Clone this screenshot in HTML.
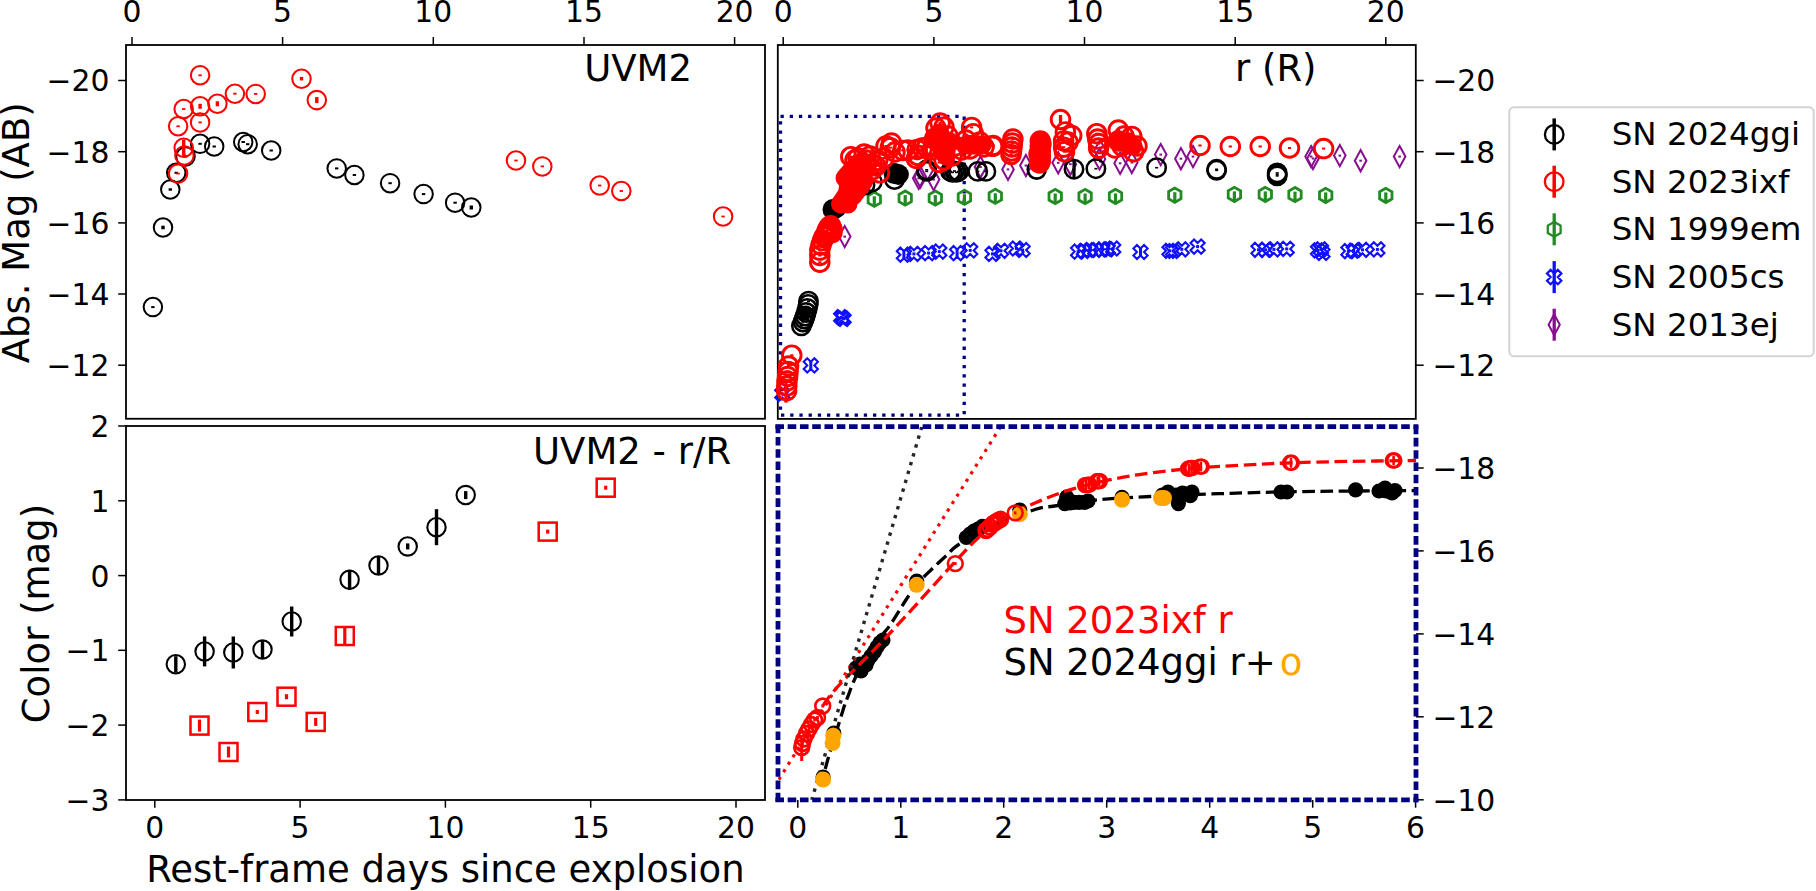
<!DOCTYPE html>
<html><head><meta charset="utf-8"><title>Light curves</title>
<style>html,body{margin:0;padding:0;background:#fff;overflow:hidden;width:1816px;height:891px;} svg{display:block;}</style>
</head><body>
<svg width="1816" height="891" viewBox="0 0 1816 891" font-family="'DejaVu Sans', 'Liberation Sans', sans-serif">
<rect width="1816" height="891" fill="#fff"/>
<rect x="126.0" y="45.0" width="639.00" height="373.75" fill="none" stroke="#000" stroke-width="1.8"/>
<line x1="132.0" y1="37.0" x2="132.0" y2="45.0" stroke="#000" stroke-width="1.5" />
<text x="132.0" y="22.3" font-size="29.8" fill="#000" text-anchor="middle" >0</text>
<line x1="282.6" y1="37.0" x2="282.6" y2="45.0" stroke="#000" stroke-width="1.5" />
<text x="282.6" y="22.3" font-size="29.8" fill="#000" text-anchor="middle" >5</text>
<line x1="433.3" y1="37.0" x2="433.3" y2="45.0" stroke="#000" stroke-width="1.5" />
<text x="433.3" y="22.3" font-size="29.8" fill="#000" text-anchor="middle" >10</text>
<line x1="584.0" y1="37.0" x2="584.0" y2="45.0" stroke="#000" stroke-width="1.5" />
<text x="584.0" y="22.3" font-size="29.8" fill="#000" text-anchor="middle" >15</text>
<line x1="734.6" y1="37.0" x2="734.6" y2="45.0" stroke="#000" stroke-width="1.5" />
<text x="734.6" y="22.3" font-size="29.8" fill="#000" text-anchor="middle" >20</text>
<line x1="118.2" y1="80.5" x2="126.0" y2="80.5" stroke="#000" stroke-width="1.5" />
<text x="109.5" y="91.4" font-size="29.8" fill="#000" text-anchor="end" >−20</text>
<line x1="118.2" y1="151.7" x2="126.0" y2="151.7" stroke="#000" stroke-width="1.5" />
<text x="109.5" y="162.6" font-size="29.8" fill="#000" text-anchor="end" >−18</text>
<line x1="118.2" y1="222.9" x2="126.0" y2="222.9" stroke="#000" stroke-width="1.5" />
<text x="109.5" y="233.8" font-size="29.8" fill="#000" text-anchor="end" >−16</text>
<line x1="118.2" y1="294.0" x2="126.0" y2="294.0" stroke="#000" stroke-width="1.5" />
<text x="109.5" y="304.9" font-size="29.8" fill="#000" text-anchor="end" >−14</text>
<line x1="118.2" y1="365.2" x2="126.0" y2="365.2" stroke="#000" stroke-width="1.5" />
<text x="109.5" y="376.1" font-size="29.8" fill="#000" text-anchor="end" >−12</text>
<line x1="163.0" y1="225.7" x2="163.0" y2="229.3" stroke="#000000" stroke-width="3.4"/>
<circle cx="163.0" cy="227.5" r="9.25" fill="none" stroke="#000000" stroke-width="2.0"/>
<line x1="170.3" y1="188.3" x2="170.3" y2="190.7" stroke="#000000" stroke-width="3.4"/>
<circle cx="170.3" cy="189.5" r="9.25" fill="none" stroke="#000000" stroke-width="2.0"/>
<line x1="185.5" y1="155.6" x2="185.5" y2="157.6" stroke="#000000" stroke-width="3.4"/>
<circle cx="185.5" cy="156.6" r="9.25" fill="none" stroke="#000000" stroke-width="2.0"/>
<line x1="200.1" y1="142.8" x2="200.1" y2="144.8" stroke="#000000" stroke-width="3.4"/>
<circle cx="200.1" cy="143.8" r="9.25" fill="none" stroke="#000000" stroke-width="2.0"/>
<line x1="214.2" y1="145.5" x2="214.2" y2="147.5" stroke="#000000" stroke-width="3.4"/>
<circle cx="214.2" cy="146.5" r="9.25" fill="none" stroke="#000000" stroke-width="2.0"/>
<line x1="243.2" y1="141.0" x2="243.2" y2="143.0" stroke="#000000" stroke-width="3.4"/>
<circle cx="243.2" cy="142.0" r="9.25" fill="none" stroke="#000000" stroke-width="2.0"/>
<line x1="247.7" y1="143.2" x2="247.7" y2="145.2" stroke="#000000" stroke-width="3.4"/>
<circle cx="247.7" cy="144.2" r="9.25" fill="none" stroke="#000000" stroke-width="2.0"/>
<line x1="271.2" y1="149.5" x2="271.2" y2="151.5" stroke="#000000" stroke-width="3.4"/>
<circle cx="271.2" cy="150.5" r="9.25" fill="none" stroke="#000000" stroke-width="2.0"/>
<line x1="152.9" y1="306.1" x2="152.9" y2="308.1" stroke="#000000" stroke-width="3.4"/>
<circle cx="152.9" cy="307.1" r="9.25" fill="none" stroke="#000000" stroke-width="2.0"/>
<line x1="176.2" y1="171.8" x2="176.2" y2="173.8" stroke="#000000" stroke-width="3.4"/>
<circle cx="176.2" cy="172.8" r="9.25" fill="none" stroke="#000000" stroke-width="2.0"/>
<line x1="336.7" y1="167.4" x2="336.7" y2="169.4" stroke="#000000" stroke-width="3.4"/>
<circle cx="336.7" cy="168.4" r="9.25" fill="none" stroke="#000000" stroke-width="2.0"/>
<line x1="354.4" y1="174.0" x2="354.4" y2="176.0" stroke="#000000" stroke-width="3.4"/>
<circle cx="354.4" cy="175.0" r="9.25" fill="none" stroke="#000000" stroke-width="2.0"/>
<line x1="390.1" y1="182.2" x2="390.1" y2="184.2" stroke="#000000" stroke-width="3.4"/>
<circle cx="390.1" cy="183.2" r="9.25" fill="none" stroke="#000000" stroke-width="2.0"/>
<line x1="423.6" y1="193.1" x2="423.6" y2="195.1" stroke="#000000" stroke-width="3.4"/>
<circle cx="423.6" cy="194.1" r="9.25" fill="none" stroke="#000000" stroke-width="2.0"/>
<line x1="455.1" y1="201.7" x2="455.1" y2="203.7" stroke="#000000" stroke-width="3.4"/>
<circle cx="455.1" cy="202.7" r="9.25" fill="none" stroke="#000000" stroke-width="2.0"/>
<line x1="471.3" y1="205.5" x2="471.3" y2="209.5" stroke="#000000" stroke-width="3.4"/>
<circle cx="471.3" cy="207.5" r="9.25" fill="none" stroke="#000000" stroke-width="2.0"/>
<line x1="200.1" y1="74.4" x2="200.1" y2="76.2" stroke="#ff0000" stroke-width="3.4"/>
<circle cx="200.1" cy="75.3" r="9.25" fill="none" stroke="#ff0000" stroke-width="2.05"/>
<line x1="301.5" y1="76.9" x2="301.5" y2="80.5" stroke="#ff0000" stroke-width="3.4"/>
<circle cx="301.5" cy="78.7" r="9.25" fill="none" stroke="#ff0000" stroke-width="2.05"/>
<line x1="316.8" y1="97.1" x2="316.8" y2="103.1" stroke="#ff0000" stroke-width="3.4"/>
<circle cx="316.8" cy="100.1" r="9.25" fill="none" stroke="#ff0000" stroke-width="2.05"/>
<line x1="234.9" y1="92.8" x2="234.9" y2="94.6" stroke="#ff0000" stroke-width="3.4"/>
<circle cx="234.9" cy="93.7" r="9.25" fill="none" stroke="#ff0000" stroke-width="2.05"/>
<line x1="255.7" y1="93.0" x2="255.7" y2="94.8" stroke="#ff0000" stroke-width="3.4"/>
<circle cx="255.7" cy="93.9" r="9.25" fill="none" stroke="#ff0000" stroke-width="2.05"/>
<line x1="217.4" y1="101.3" x2="217.4" y2="106.3" stroke="#ff0000" stroke-width="3.4"/>
<circle cx="217.4" cy="103.8" r="9.25" fill="none" stroke="#ff0000" stroke-width="2.05"/>
<line x1="200.1" y1="103.8" x2="200.1" y2="108.8" stroke="#ff0000" stroke-width="3.4"/>
<circle cx="200.1" cy="106.3" r="9.25" fill="none" stroke="#ff0000" stroke-width="2.05"/>
<line x1="183.7" y1="108.1" x2="183.7" y2="109.9" stroke="#ff0000" stroke-width="3.4"/>
<circle cx="183.7" cy="109.0" r="9.25" fill="none" stroke="#ff0000" stroke-width="2.05"/>
<line x1="200.1" y1="121.5" x2="200.1" y2="123.3" stroke="#ff0000" stroke-width="3.4"/>
<circle cx="200.1" cy="122.4" r="9.25" fill="none" stroke="#ff0000" stroke-width="2.05"/>
<line x1="178.1" y1="125.4" x2="178.1" y2="127.2" stroke="#ff0000" stroke-width="3.4"/>
<circle cx="178.1" cy="126.3" r="9.25" fill="none" stroke="#ff0000" stroke-width="2.05"/>
<line x1="183.7" y1="139.8" x2="183.7" y2="155.8" stroke="#ff0000" stroke-width="3.4"/>
<circle cx="183.7" cy="147.8" r="9.25" fill="none" stroke="#ff0000" stroke-width="2.05"/>
<line x1="184.4" y1="154.5" x2="184.4" y2="156.3" stroke="#ff0000" stroke-width="3.4"/>
<circle cx="184.4" cy="155.4" r="9.25" fill="none" stroke="#ff0000" stroke-width="2.05"/>
<line x1="178.1" y1="172.7" x2="178.1" y2="174.5" stroke="#ff0000" stroke-width="3.4"/>
<circle cx="178.1" cy="173.6" r="9.25" fill="none" stroke="#ff0000" stroke-width="2.05"/>
<line x1="516.0" y1="159.6" x2="516.0" y2="161.4" stroke="#ff0000" stroke-width="3.4"/>
<circle cx="516.0" cy="160.5" r="9.25" fill="none" stroke="#ff0000" stroke-width="2.05"/>
<line x1="542.3" y1="165.5" x2="542.3" y2="167.3" stroke="#ff0000" stroke-width="3.4"/>
<circle cx="542.3" cy="166.4" r="9.25" fill="none" stroke="#ff0000" stroke-width="2.05"/>
<line x1="599.7" y1="184.6" x2="599.7" y2="186.4" stroke="#ff0000" stroke-width="3.4"/>
<circle cx="599.7" cy="185.5" r="9.25" fill="none" stroke="#ff0000" stroke-width="2.05"/>
<line x1="621.3" y1="190.1" x2="621.3" y2="191.9" stroke="#ff0000" stroke-width="3.4"/>
<circle cx="621.3" cy="191.0" r="9.25" fill="none" stroke="#ff0000" stroke-width="2.05"/>
<line x1="723.1" y1="215.6" x2="723.1" y2="217.4" stroke="#ff0000" stroke-width="3.4"/>
<circle cx="723.1" cy="216.5" r="9.25" fill="none" stroke="#ff0000" stroke-width="2.05"/>
<text x="584.2" y="81.1" font-size="37.0" fill="#000" text-anchor="start" >UVM2</text>
<rect x="777.8" y="45.0" width="638.00" height="373.90" fill="none" stroke="#000" stroke-width="1.8"/>
<line x1="783.2" y1="37.0" x2="783.2" y2="45.0" stroke="#000" stroke-width="1.5" />
<text x="783.2" y="22.3" font-size="29.8" fill="#000" text-anchor="middle" >0</text>
<line x1="933.9" y1="37.0" x2="933.9" y2="45.0" stroke="#000" stroke-width="1.5" />
<text x="933.9" y="22.3" font-size="29.8" fill="#000" text-anchor="middle" >5</text>
<line x1="1084.5" y1="37.0" x2="1084.5" y2="45.0" stroke="#000" stroke-width="1.5" />
<text x="1084.5" y="22.3" font-size="29.8" fill="#000" text-anchor="middle" >10</text>
<line x1="1235.2" y1="37.0" x2="1235.2" y2="45.0" stroke="#000" stroke-width="1.5" />
<text x="1235.2" y="22.3" font-size="29.8" fill="#000" text-anchor="middle" >15</text>
<line x1="1385.8" y1="37.0" x2="1385.8" y2="45.0" stroke="#000" stroke-width="1.5" />
<text x="1385.8" y="22.3" font-size="29.8" fill="#000" text-anchor="middle" >20</text>
<line x1="1415.8" y1="80.5" x2="1423.7" y2="80.5" stroke="#000" stroke-width="1.5" />
<text x="1432.4" y="91.4" font-size="29.8" fill="#000" text-anchor="start" >−20</text>
<line x1="1415.8" y1="151.7" x2="1423.7" y2="151.7" stroke="#000" stroke-width="1.5" />
<text x="1432.4" y="162.6" font-size="29.8" fill="#000" text-anchor="start" >−18</text>
<line x1="1415.8" y1="222.9" x2="1423.7" y2="222.9" stroke="#000" stroke-width="1.5" />
<text x="1432.4" y="233.8" font-size="29.8" fill="#000" text-anchor="start" >−16</text>
<line x1="1415.8" y1="294.0" x2="1423.7" y2="294.0" stroke="#000" stroke-width="1.5" />
<text x="1432.4" y="304.9" font-size="29.8" fill="#000" text-anchor="start" >−14</text>
<line x1="1415.8" y1="365.2" x2="1423.7" y2="365.2" stroke="#000" stroke-width="1.5" />
<text x="1432.4" y="376.1" font-size="29.8" fill="#000" text-anchor="start" >−12</text>
<rect x="780.5" y="116.3" width="183.7" height="298.8" fill="none" stroke="#000080" stroke-width="3.3" stroke-dasharray="3.3 5.9"/>
<line x1="874.3" y1="196.3" x2="874.3" y2="206.3" stroke="#228b22" stroke-width="3.2"/>
<polygon points="874.30,192.15 868.11,195.73 868.11,202.88 874.30,206.45 880.49,202.88 880.49,195.73" fill="none" stroke="#228b22" stroke-width="2.8" stroke-linejoin="miter"/>
<line x1="905.2" y1="195.1" x2="905.2" y2="205.1" stroke="#228b22" stroke-width="3.2"/>
<polygon points="905.20,190.95 899.01,194.53 899.01,201.67 905.20,205.25 911.39,201.68 911.39,194.53" fill="none" stroke="#228b22" stroke-width="2.8" stroke-linejoin="miter"/>
<line x1="935.3" y1="195.1" x2="935.3" y2="205.1" stroke="#228b22" stroke-width="3.2"/>
<polygon points="935.30,190.95 929.11,194.53 929.11,201.67 935.30,205.25 941.49,201.68 941.49,194.53" fill="none" stroke="#228b22" stroke-width="2.8" stroke-linejoin="miter"/>
<line x1="964.4" y1="194.3" x2="964.4" y2="204.3" stroke="#228b22" stroke-width="3.2"/>
<polygon points="964.40,190.15 958.21,193.73 958.21,200.88 964.40,204.45 970.59,200.88 970.59,193.73" fill="none" stroke="#228b22" stroke-width="2.8" stroke-linejoin="miter"/>
<line x1="995.3" y1="193.3" x2="995.3" y2="203.3" stroke="#228b22" stroke-width="3.2"/>
<polygon points="995.30,189.15 989.11,192.73 989.11,199.88 995.30,203.45 1001.49,199.88 1001.49,192.73" fill="none" stroke="#228b22" stroke-width="2.8" stroke-linejoin="miter"/>
<line x1="1055.2" y1="193.5" x2="1055.2" y2="203.5" stroke="#228b22" stroke-width="3.2"/>
<polygon points="1055.20,189.35 1049.01,192.93 1049.01,200.07 1055.20,203.65 1061.39,200.08 1061.39,192.93" fill="none" stroke="#228b22" stroke-width="2.8" stroke-linejoin="miter"/>
<line x1="1085.1" y1="193.5" x2="1085.1" y2="203.5" stroke="#228b22" stroke-width="3.2"/>
<polygon points="1085.10,189.35 1078.91,192.93 1078.91,200.07 1085.10,203.65 1091.29,200.08 1091.29,192.93" fill="none" stroke="#228b22" stroke-width="2.8" stroke-linejoin="miter"/>
<line x1="1115.5" y1="193.4" x2="1115.5" y2="203.4" stroke="#228b22" stroke-width="3.2"/>
<polygon points="1115.50,189.25 1109.31,192.83 1109.31,199.97 1115.50,203.55 1121.69,199.98 1121.69,192.83" fill="none" stroke="#228b22" stroke-width="2.8" stroke-linejoin="miter"/>
<line x1="1174.8" y1="192.2" x2="1174.8" y2="202.2" stroke="#228b22" stroke-width="3.2"/>
<polygon points="1174.80,188.05 1168.61,191.62 1168.61,198.77 1174.80,202.35 1180.99,198.78 1180.99,191.62" fill="none" stroke="#228b22" stroke-width="2.8" stroke-linejoin="miter"/>
<line x1="1234.4" y1="191.4" x2="1234.4" y2="201.4" stroke="#228b22" stroke-width="3.2"/>
<polygon points="1234.40,187.25 1228.21,190.83 1228.21,197.97 1234.40,201.55 1240.59,197.98 1240.59,190.83" fill="none" stroke="#228b22" stroke-width="2.8" stroke-linejoin="miter"/>
<line x1="1265.3" y1="191.4" x2="1265.3" y2="201.4" stroke="#228b22" stroke-width="3.2"/>
<polygon points="1265.30,187.25 1259.11,190.83 1259.11,197.97 1265.30,201.55 1271.49,197.98 1271.49,190.83" fill="none" stroke="#228b22" stroke-width="2.8" stroke-linejoin="miter"/>
<line x1="1295.0" y1="191.6" x2="1295.0" y2="201.6" stroke="#228b22" stroke-width="3.2"/>
<polygon points="1295.00,187.45 1288.81,191.03 1288.81,198.17 1295.00,201.75 1301.19,198.18 1301.19,191.03" fill="none" stroke="#228b22" stroke-width="2.8" stroke-linejoin="miter"/>
<line x1="1325.7" y1="192.4" x2="1325.7" y2="202.4" stroke="#228b22" stroke-width="3.2"/>
<polygon points="1325.70,188.25 1319.51,191.83 1319.51,198.97 1325.70,202.55 1331.89,198.98 1331.89,191.83" fill="none" stroke="#228b22" stroke-width="2.8" stroke-linejoin="miter"/>
<line x1="1385.8" y1="192.4" x2="1385.8" y2="202.4" stroke="#228b22" stroke-width="3.2"/>
<polygon points="1385.80,188.25 1379.61,191.83 1379.61,198.97 1385.80,202.55 1391.99,198.98 1391.99,191.83" fill="none" stroke="#228b22" stroke-width="2.8" stroke-linejoin="miter"/>
<line x1="841.2" y1="315.7" x2="841.2" y2="318.7" stroke="#1010ff" stroke-width="3.0"/>
<polygon points="837.65,310.10 841.20,313.65 844.75,310.10 848.30,313.65 844.75,317.20 848.30,320.75 844.75,324.30 841.20,320.75 837.65,324.30 834.10,320.75 837.65,317.20 834.10,313.65" fill="none" stroke="#1010ff" stroke-width="2.1" stroke-linejoin="miter"/>
<line x1="843.6" y1="317.3" x2="843.6" y2="320.3" stroke="#1010ff" stroke-width="3.0"/>
<polygon points="840.05,311.70 843.60,315.25 847.15,311.70 850.70,315.25 847.15,318.80 850.70,322.35 847.15,325.90 843.60,322.35 840.05,325.90 836.50,322.35 840.05,318.80 836.50,315.25" fill="none" stroke="#1010ff" stroke-width="2.1" stroke-linejoin="miter"/>
<line x1="842.4" y1="316.5" x2="842.4" y2="319.5" stroke="#1010ff" stroke-width="3.0"/>
<polygon points="838.85,310.90 842.40,314.45 845.95,310.90 849.50,314.45 845.95,318.00 849.50,321.55 845.95,325.10 842.40,321.55 838.85,325.10 835.30,321.55 838.85,318.00 835.30,314.45" fill="none" stroke="#1010ff" stroke-width="2.1" stroke-linejoin="miter"/>
<line x1="810.8" y1="360.4" x2="810.8" y2="370.4" stroke="#1010ff" stroke-width="3.0"/>
<polygon points="807.25,358.30 810.80,361.85 814.35,358.30 817.90,361.85 814.35,365.40 817.90,368.95 814.35,372.50 810.80,368.95 807.25,372.50 803.70,368.95 807.25,365.40 803.70,361.85" fill="none" stroke="#1010ff" stroke-width="2.1" stroke-linejoin="miter"/>
<line x1="782.3" y1="392.4" x2="782.3" y2="395.4" stroke="#1010ff" stroke-width="3.0"/>
<polygon points="778.75,386.80 782.30,390.35 785.85,386.80 789.40,390.35 785.85,393.90 789.40,397.45 785.85,401.00 782.30,397.45 778.75,401.00 775.20,397.45 778.75,393.90 775.20,390.35" fill="none" stroke="#1010ff" stroke-width="2.1" stroke-linejoin="miter"/>
<line x1="903.9" y1="249.7" x2="903.9" y2="259.7" stroke="#1010ff" stroke-width="3.0"/>
<polygon points="900.35,247.60 903.90,251.15 907.45,247.60 911.00,251.15 907.45,254.70 911.00,258.25 907.45,261.80 903.90,258.25 900.35,261.80 896.80,258.25 900.35,254.70 896.80,251.15" fill="none" stroke="#1010ff" stroke-width="2.1" stroke-linejoin="miter"/>
<line x1="913.9" y1="252.4" x2="913.9" y2="255.4" stroke="#1010ff" stroke-width="3.0"/>
<polygon points="910.35,246.80 913.90,250.35 917.45,246.80 921.00,250.35 917.45,253.90 921.00,257.45 917.45,261.00 913.90,257.45 910.35,261.00 906.80,257.45 910.35,253.90 906.80,250.35" fill="none" stroke="#1010ff" stroke-width="2.1" stroke-linejoin="miter"/>
<line x1="928.6" y1="251.6" x2="928.6" y2="254.6" stroke="#1010ff" stroke-width="3.0"/>
<polygon points="925.05,246.00 928.60,249.55 932.15,246.00 935.70,249.55 932.15,253.10 935.70,256.65 932.15,260.20 928.60,256.65 925.05,260.20 921.50,256.65 925.05,253.10 921.50,249.55" fill="none" stroke="#1010ff" stroke-width="2.1" stroke-linejoin="miter"/>
<line x1="939.3" y1="250.1" x2="939.3" y2="253.1" stroke="#1010ff" stroke-width="3.0"/>
<polygon points="935.75,244.50 939.30,248.05 942.85,244.50 946.40,248.05 942.85,251.60 946.40,255.15 942.85,258.70 939.30,255.15 935.75,258.70 932.20,255.15 935.75,251.60 932.20,248.05" fill="none" stroke="#1010ff" stroke-width="2.1" stroke-linejoin="miter"/>
<line x1="957.1" y1="248.1" x2="957.1" y2="258.1" stroke="#1010ff" stroke-width="3.0"/>
<polygon points="953.55,246.00 957.10,249.55 960.65,246.00 964.20,249.55 960.65,253.10 964.20,256.65 960.65,260.20 957.10,256.65 953.55,260.20 950.00,256.65 953.55,253.10 950.00,249.55" fill="none" stroke="#1010ff" stroke-width="2.1" stroke-linejoin="miter"/>
<line x1="970.2" y1="248.9" x2="970.2" y2="251.9" stroke="#1010ff" stroke-width="3.0"/>
<polygon points="966.65,243.30 970.20,246.85 973.75,243.30 977.30,246.85 973.75,250.40 977.30,253.95 973.75,257.50 970.20,253.95 966.65,257.50 963.10,253.95 966.65,250.40 963.10,246.85" fill="none" stroke="#1010ff" stroke-width="2.1" stroke-linejoin="miter"/>
<line x1="992.5" y1="252.4" x2="992.5" y2="255.4" stroke="#1010ff" stroke-width="3.0"/>
<polygon points="988.95,246.80 992.50,250.35 996.05,246.80 999.60,250.35 996.05,253.90 999.60,257.45 996.05,261.00 992.50,257.45 988.95,261.00 985.40,257.45 988.95,253.90 985.40,250.35" fill="none" stroke="#1010ff" stroke-width="2.1" stroke-linejoin="miter"/>
<line x1="1001.0" y1="249.3" x2="1001.0" y2="252.3" stroke="#1010ff" stroke-width="3.0"/>
<polygon points="997.45,243.70 1001.00,247.25 1004.55,243.70 1008.10,247.25 1004.55,250.80 1008.10,254.35 1004.55,257.90 1001.00,254.35 997.45,257.90 993.90,254.35 997.45,250.80 993.90,247.25" fill="none" stroke="#1010ff" stroke-width="2.1" stroke-linejoin="miter"/>
<line x1="1016.4" y1="247.0" x2="1016.4" y2="250.0" stroke="#1010ff" stroke-width="3.0"/>
<polygon points="1012.85,241.40 1016.40,244.95 1019.95,241.40 1023.50,244.95 1019.95,248.50 1023.50,252.05 1019.95,255.60 1016.40,252.05 1012.85,255.60 1009.30,252.05 1012.85,248.50 1009.30,244.95" fill="none" stroke="#1010ff" stroke-width="2.1" stroke-linejoin="miter"/>
<line x1="1022.6" y1="248.5" x2="1022.6" y2="251.5" stroke="#1010ff" stroke-width="3.0"/>
<polygon points="1019.05,242.90 1022.60,246.45 1026.15,242.90 1029.70,246.45 1026.15,250.00 1029.70,253.55 1026.15,257.10 1022.60,253.55 1019.05,257.10 1015.50,253.55 1019.05,250.00 1015.50,246.45" fill="none" stroke="#1010ff" stroke-width="2.1" stroke-linejoin="miter"/>
<line x1="1078.1" y1="250.1" x2="1078.1" y2="253.1" stroke="#1010ff" stroke-width="3.0"/>
<polygon points="1074.55,244.50 1078.10,248.05 1081.65,244.50 1085.20,248.05 1081.65,251.60 1085.20,255.15 1081.65,258.70 1078.10,255.15 1074.55,258.70 1071.00,255.15 1074.55,251.60 1071.00,248.05" fill="none" stroke="#1010ff" stroke-width="2.1" stroke-linejoin="miter"/>
<line x1="1083.9" y1="249.3" x2="1083.9" y2="252.3" stroke="#1010ff" stroke-width="3.0"/>
<polygon points="1080.35,243.70 1083.90,247.25 1087.45,243.70 1091.00,247.25 1087.45,250.80 1091.00,254.35 1087.45,257.90 1083.90,254.35 1080.35,257.90 1076.80,254.35 1080.35,250.80 1076.80,247.25" fill="none" stroke="#1010ff" stroke-width="2.1" stroke-linejoin="miter"/>
<line x1="1090.0" y1="248.5" x2="1090.0" y2="251.5" stroke="#1010ff" stroke-width="3.0"/>
<polygon points="1086.45,242.90 1090.00,246.45 1093.55,242.90 1097.10,246.45 1093.55,250.00 1097.10,253.55 1093.55,257.10 1090.00,253.55 1086.45,257.10 1082.90,253.55 1086.45,250.00 1082.90,246.45" fill="none" stroke="#1010ff" stroke-width="2.1" stroke-linejoin="miter"/>
<line x1="1095.4" y1="248.5" x2="1095.4" y2="251.5" stroke="#1010ff" stroke-width="3.0"/>
<polygon points="1091.85,242.90 1095.40,246.45 1098.95,242.90 1102.50,246.45 1098.95,250.00 1102.50,253.55 1098.95,257.10 1095.40,253.55 1091.85,257.10 1088.30,253.55 1091.85,250.00 1088.30,246.45" fill="none" stroke="#1010ff" stroke-width="2.1" stroke-linejoin="miter"/>
<line x1="1102.4" y1="247.8" x2="1102.4" y2="250.8" stroke="#1010ff" stroke-width="3.0"/>
<polygon points="1098.85,242.20 1102.40,245.75 1105.95,242.20 1109.50,245.75 1105.95,249.30 1109.50,252.85 1105.95,256.40 1102.40,252.85 1098.85,256.40 1095.30,252.85 1098.85,249.30 1095.30,245.75" fill="none" stroke="#1010ff" stroke-width="2.1" stroke-linejoin="miter"/>
<line x1="1107.8" y1="247.8" x2="1107.8" y2="250.8" stroke="#1010ff" stroke-width="3.0"/>
<polygon points="1104.25,242.20 1107.80,245.75 1111.35,242.20 1114.90,245.75 1111.35,249.30 1114.90,252.85 1111.35,256.40 1107.80,252.85 1104.25,256.40 1100.70,252.85 1104.25,249.30 1100.70,245.75" fill="none" stroke="#1010ff" stroke-width="2.1" stroke-linejoin="miter"/>
<line x1="1113.2" y1="247.0" x2="1113.2" y2="250.0" stroke="#1010ff" stroke-width="3.0"/>
<polygon points="1109.65,241.40 1113.20,244.95 1116.75,241.40 1120.30,244.95 1116.75,248.50 1120.30,252.05 1116.75,255.60 1113.20,252.05 1109.65,255.60 1106.10,252.05 1109.65,248.50 1106.10,244.95" fill="none" stroke="#1010ff" stroke-width="2.1" stroke-linejoin="miter"/>
<line x1="1140.5" y1="247.0" x2="1140.5" y2="257.0" stroke="#1010ff" stroke-width="3.0"/>
<polygon points="1136.95,244.90 1140.50,248.45 1144.05,244.90 1147.60,248.45 1144.05,252.00 1147.60,255.55 1144.05,259.10 1140.50,255.55 1136.95,259.10 1133.40,255.55 1136.95,252.00 1133.40,248.45" fill="none" stroke="#1010ff" stroke-width="2.1" stroke-linejoin="miter"/>
<line x1="1169.5" y1="249.3" x2="1169.5" y2="252.3" stroke="#1010ff" stroke-width="3.0"/>
<polygon points="1165.95,243.70 1169.50,247.25 1173.05,243.70 1176.60,247.25 1173.05,250.80 1176.60,254.35 1173.05,257.90 1169.50,254.35 1165.95,257.90 1162.40,254.35 1165.95,250.80 1162.40,247.25" fill="none" stroke="#1010ff" stroke-width="2.1" stroke-linejoin="miter"/>
<line x1="1173.0" y1="249.5" x2="1173.0" y2="252.5" stroke="#1010ff" stroke-width="3.0"/>
<polygon points="1169.45,243.90 1173.00,247.45 1176.55,243.90 1180.10,247.45 1176.55,251.00 1180.10,254.55 1176.55,258.10 1173.00,254.55 1169.45,258.10 1165.90,254.55 1169.45,251.00 1165.90,247.45" fill="none" stroke="#1010ff" stroke-width="2.1" stroke-linejoin="miter"/>
<line x1="1181.8" y1="247.8" x2="1181.8" y2="250.8" stroke="#1010ff" stroke-width="3.0"/>
<polygon points="1178.25,242.20 1181.80,245.75 1185.35,242.20 1188.90,245.75 1185.35,249.30 1188.90,252.85 1185.35,256.40 1181.80,252.85 1178.25,256.40 1174.70,252.85 1178.25,249.30 1174.70,245.75" fill="none" stroke="#1010ff" stroke-width="2.1" stroke-linejoin="miter"/>
<line x1="1197.6" y1="245.1" x2="1197.6" y2="248.1" stroke="#1010ff" stroke-width="3.0"/>
<polygon points="1194.05,239.50 1197.60,243.05 1201.15,239.50 1204.70,243.05 1201.15,246.60 1204.70,250.15 1201.15,253.70 1197.60,250.15 1194.05,253.70 1190.50,250.15 1194.05,246.60 1190.50,243.05" fill="none" stroke="#1010ff" stroke-width="2.1" stroke-linejoin="miter"/>
<line x1="1258.5" y1="248.3" x2="1258.5" y2="251.3" stroke="#1010ff" stroke-width="3.0"/>
<polygon points="1254.95,242.70 1258.50,246.25 1262.05,242.70 1265.60,246.25 1262.05,249.80 1265.60,253.35 1262.05,256.90 1258.50,253.35 1254.95,256.90 1251.40,253.35 1254.95,249.80 1251.40,246.25" fill="none" stroke="#1010ff" stroke-width="2.1" stroke-linejoin="miter"/>
<line x1="1265.6" y1="248.3" x2="1265.6" y2="251.3" stroke="#1010ff" stroke-width="3.0"/>
<polygon points="1262.05,242.70 1265.60,246.25 1269.15,242.70 1272.70,246.25 1269.15,249.80 1272.70,253.35 1269.15,256.90 1265.60,253.35 1262.05,256.90 1258.50,253.35 1262.05,249.80 1258.50,246.25" fill="none" stroke="#1010ff" stroke-width="2.1" stroke-linejoin="miter"/>
<line x1="1273.9" y1="247.9" x2="1273.9" y2="250.9" stroke="#1010ff" stroke-width="3.0"/>
<polygon points="1270.35,242.30 1273.90,245.85 1277.45,242.30 1281.00,245.85 1277.45,249.40 1281.00,252.95 1277.45,256.50 1273.90,252.95 1270.35,256.50 1266.80,252.95 1270.35,249.40 1266.80,245.85" fill="none" stroke="#1010ff" stroke-width="2.1" stroke-linejoin="miter"/>
<line x1="1286.7" y1="247.4" x2="1286.7" y2="250.4" stroke="#1010ff" stroke-width="3.0"/>
<polygon points="1283.15,241.80 1286.70,245.35 1290.25,241.80 1293.80,245.35 1290.25,248.90 1293.80,252.45 1290.25,256.00 1286.70,252.45 1283.15,256.00 1279.60,252.45 1283.15,248.90 1279.60,245.35" fill="none" stroke="#1010ff" stroke-width="2.1" stroke-linejoin="miter"/>
<line x1="1318.0" y1="248.8" x2="1318.0" y2="251.8" stroke="#1010ff" stroke-width="3.0"/>
<polygon points="1314.45,243.20 1318.00,246.75 1321.55,243.20 1325.10,246.75 1321.55,250.30 1325.10,253.85 1321.55,257.40 1318.00,253.85 1314.45,257.40 1310.90,253.85 1314.45,250.30 1310.90,246.75" fill="none" stroke="#1010ff" stroke-width="2.1" stroke-linejoin="miter"/>
<line x1="1322.5" y1="251.5" x2="1322.5" y2="254.5" stroke="#1010ff" stroke-width="3.0"/>
<polygon points="1318.95,245.90 1322.50,249.45 1326.05,245.90 1329.60,249.45 1326.05,253.00 1329.60,256.55 1326.05,260.10 1322.50,256.55 1318.95,260.10 1315.40,256.55 1318.95,253.00 1315.40,249.45" fill="none" stroke="#1010ff" stroke-width="2.1" stroke-linejoin="miter"/>
<line x1="1321.0" y1="247.9" x2="1321.0" y2="250.9" stroke="#1010ff" stroke-width="3.0"/>
<polygon points="1317.45,242.30 1321.00,245.85 1324.55,242.30 1328.10,245.85 1324.55,249.40 1328.10,252.95 1324.55,256.50 1321.00,252.95 1317.45,256.50 1313.90,252.95 1317.45,249.40 1313.90,245.85" fill="none" stroke="#1010ff" stroke-width="2.1" stroke-linejoin="miter"/>
<line x1="1348.4" y1="249.6" x2="1348.4" y2="252.6" stroke="#1010ff" stroke-width="3.0"/>
<polygon points="1344.85,244.00 1348.40,247.55 1351.95,244.00 1355.50,247.55 1351.95,251.10 1355.50,254.65 1351.95,258.20 1348.40,254.65 1344.85,258.20 1341.30,254.65 1344.85,251.10 1341.30,247.55" fill="none" stroke="#1010ff" stroke-width="2.1" stroke-linejoin="miter"/>
<line x1="1353.7" y1="249.2" x2="1353.7" y2="252.2" stroke="#1010ff" stroke-width="3.0"/>
<polygon points="1350.15,243.60 1353.70,247.15 1357.25,243.60 1360.80,247.15 1357.25,250.70 1360.80,254.25 1357.25,257.80 1353.70,254.25 1350.15,257.80 1346.60,254.25 1350.15,250.70 1346.60,247.15" fill="none" stroke="#1010ff" stroke-width="2.1" stroke-linejoin="miter"/>
<line x1="1362.5" y1="248.3" x2="1362.5" y2="251.3" stroke="#1010ff" stroke-width="3.0"/>
<polygon points="1358.95,242.70 1362.50,246.25 1366.05,242.70 1369.60,246.25 1366.05,249.80 1369.60,253.35 1366.05,256.90 1362.50,253.35 1358.95,256.90 1355.40,253.35 1358.95,249.80 1355.40,246.25" fill="none" stroke="#1010ff" stroke-width="2.1" stroke-linejoin="miter"/>
<line x1="1377.4" y1="247.9" x2="1377.4" y2="250.9" stroke="#1010ff" stroke-width="3.0"/>
<polygon points="1373.85,242.30 1377.40,245.85 1380.95,242.30 1384.50,245.85 1380.95,249.40 1384.50,252.95 1380.95,256.50 1377.40,252.95 1373.85,256.50 1370.30,252.95 1373.85,249.40 1370.30,245.85" fill="none" stroke="#1010ff" stroke-width="2.1" stroke-linejoin="miter"/>
<line x1="844.7" y1="235.6" x2="844.7" y2="237.6" stroke="#870f8f" stroke-width="2.6"/>
<polygon points="844.70,226.00 850.50,236.60 844.70,247.20 838.90,236.60" fill="none" stroke="#870f8f" stroke-width="2.0" stroke-linejoin="miter"/>
<line x1="918.7" y1="177.3" x2="918.7" y2="179.3" stroke="#870f8f" stroke-width="2.6"/>
<polygon points="918.70,167.70 924.50,178.30 918.70,188.90 912.90,178.30" fill="none" stroke="#870f8f" stroke-width="2.0" stroke-linejoin="miter"/>
<line x1="920.4" y1="176.0" x2="920.4" y2="178.0" stroke="#870f8f" stroke-width="2.6"/>
<polygon points="920.40,166.40 926.20,177.00 920.40,187.60 914.60,177.00" fill="none" stroke="#870f8f" stroke-width="2.0" stroke-linejoin="miter"/>
<line x1="933.6" y1="178.6" x2="933.6" y2="180.6" stroke="#870f8f" stroke-width="2.6"/>
<polygon points="933.60,169.00 939.40,179.60 933.60,190.20 927.80,179.60" fill="none" stroke="#870f8f" stroke-width="2.0" stroke-linejoin="miter"/>
<line x1="980.5" y1="166.0" x2="980.5" y2="168.0" stroke="#870f8f" stroke-width="2.6"/>
<polygon points="980.50,156.40 986.30,167.00 980.50,177.60 974.70,167.00" fill="none" stroke="#870f8f" stroke-width="2.0" stroke-linejoin="miter"/>
<line x1="1008.0" y1="168.4" x2="1008.0" y2="170.4" stroke="#870f8f" stroke-width="2.6"/>
<polygon points="1008.00,158.80 1013.80,169.40 1008.00,180.00 1002.20,169.40" fill="none" stroke="#870f8f" stroke-width="2.0" stroke-linejoin="miter"/>
<line x1="1025.9" y1="164.5" x2="1025.9" y2="166.5" stroke="#870f8f" stroke-width="2.6"/>
<polygon points="1025.90,154.90 1031.70,165.50 1025.90,176.10 1020.10,165.50" fill="none" stroke="#870f8f" stroke-width="2.0" stroke-linejoin="miter"/>
<line x1="1058.2" y1="161.8" x2="1058.2" y2="163.8" stroke="#870f8f" stroke-width="2.6"/>
<polygon points="1058.20,152.20 1064.00,162.80 1058.20,173.40 1052.40,162.80" fill="none" stroke="#870f8f" stroke-width="2.0" stroke-linejoin="miter"/>
<line x1="1070.4" y1="163.2" x2="1070.4" y2="165.2" stroke="#870f8f" stroke-width="2.6"/>
<polygon points="1070.40,153.60 1076.20,164.20 1070.40,174.80 1064.60,164.20" fill="none" stroke="#870f8f" stroke-width="2.0" stroke-linejoin="miter"/>
<line x1="1099.5" y1="157.9" x2="1099.5" y2="159.9" stroke="#870f8f" stroke-width="2.6"/>
<polygon points="1099.50,148.30 1105.30,158.90 1099.50,169.50 1093.70,158.90" fill="none" stroke="#870f8f" stroke-width="2.0" stroke-linejoin="miter"/>
<line x1="1100.0" y1="149.6" x2="1100.0" y2="151.6" stroke="#870f8f" stroke-width="2.6"/>
<polygon points="1100.00,140.00 1105.80,150.60 1100.00,161.20 1094.20,150.60" fill="none" stroke="#870f8f" stroke-width="2.0" stroke-linejoin="miter"/>
<line x1="1120.1" y1="162.3" x2="1120.1" y2="164.3" stroke="#870f8f" stroke-width="2.6"/>
<polygon points="1120.10,152.70 1125.90,163.30 1120.10,173.90 1114.30,163.30" fill="none" stroke="#870f8f" stroke-width="2.0" stroke-linejoin="miter"/>
<line x1="1131.8" y1="161.5" x2="1131.8" y2="163.5" stroke="#870f8f" stroke-width="2.6"/>
<polygon points="1131.80,151.90 1137.60,162.50 1131.80,173.10 1126.00,162.50" fill="none" stroke="#870f8f" stroke-width="2.0" stroke-linejoin="miter"/>
<line x1="1160.7" y1="153.6" x2="1160.7" y2="155.6" stroke="#870f8f" stroke-width="2.6"/>
<polygon points="1160.70,144.00 1166.50,154.60 1160.70,165.20 1154.90,154.60" fill="none" stroke="#870f8f" stroke-width="2.0" stroke-linejoin="miter"/>
<line x1="1180.9" y1="157.7" x2="1180.9" y2="159.7" stroke="#870f8f" stroke-width="2.6"/>
<polygon points="1180.90,148.10 1186.70,158.70 1180.90,169.30 1175.10,158.70" fill="none" stroke="#870f8f" stroke-width="2.0" stroke-linejoin="miter"/>
<line x1="1193.0" y1="155.6" x2="1193.0" y2="157.6" stroke="#870f8f" stroke-width="2.6"/>
<polygon points="1193.00,146.00 1198.80,156.60 1193.00,167.20 1187.20,156.60" fill="none" stroke="#870f8f" stroke-width="2.0" stroke-linejoin="miter"/>
<line x1="1311.1" y1="155.6" x2="1311.1" y2="157.6" stroke="#870f8f" stroke-width="2.6"/>
<polygon points="1311.10,146.00 1316.90,156.60 1311.10,167.20 1305.30,156.60" fill="none" stroke="#870f8f" stroke-width="2.0" stroke-linejoin="miter"/>
<line x1="1313.0" y1="157.5" x2="1313.0" y2="159.5" stroke="#870f8f" stroke-width="2.6"/>
<polygon points="1313.00,147.90 1318.80,158.50 1313.00,169.10 1307.20,158.50" fill="none" stroke="#870f8f" stroke-width="2.0" stroke-linejoin="miter"/>
<line x1="1339.8" y1="154.6" x2="1339.8" y2="156.6" stroke="#870f8f" stroke-width="2.6"/>
<polygon points="1339.80,145.00 1345.60,155.60 1339.80,166.20 1334.00,155.60" fill="none" stroke="#870f8f" stroke-width="2.0" stroke-linejoin="miter"/>
<line x1="1360.6" y1="159.7" x2="1360.6" y2="161.7" stroke="#870f8f" stroke-width="2.6"/>
<polygon points="1360.60,150.10 1366.40,160.70 1360.60,171.30 1354.80,160.70" fill="none" stroke="#870f8f" stroke-width="2.0" stroke-linejoin="miter"/>
<line x1="1399.6" y1="155.6" x2="1399.6" y2="157.6" stroke="#870f8f" stroke-width="2.6"/>
<polygon points="1399.60,146.00 1405.40,156.60 1399.60,167.20 1393.80,156.60" fill="none" stroke="#870f8f" stroke-width="2.0" stroke-linejoin="miter"/>
<line x1="808.5" y1="300.4" x2="808.5" y2="302.0" stroke="#000000" stroke-width="3.0"/>
<circle cx="808.5" cy="301.2" r="9.2" fill="none" stroke="#000000" stroke-width="2.5"/>
<line x1="808.2" y1="303.7" x2="808.2" y2="305.3" stroke="#000000" stroke-width="3.0"/>
<circle cx="808.2" cy="304.5" r="9.2" fill="none" stroke="#000000" stroke-width="2.5"/>
<line x1="807.3" y1="307.7" x2="807.3" y2="309.3" stroke="#000000" stroke-width="3.0"/>
<circle cx="807.3" cy="308.5" r="9.2" fill="none" stroke="#000000" stroke-width="2.5"/>
<line x1="806.2" y1="311.7" x2="806.2" y2="313.3" stroke="#000000" stroke-width="3.0"/>
<circle cx="806.2" cy="312.5" r="9.2" fill="none" stroke="#000000" stroke-width="2.5"/>
<line x1="805.2" y1="315.2" x2="805.2" y2="316.8" stroke="#000000" stroke-width="3.0"/>
<circle cx="805.2" cy="316.0" r="9.2" fill="none" stroke="#000000" stroke-width="2.5"/>
<line x1="804.2" y1="318.2" x2="804.2" y2="319.8" stroke="#000000" stroke-width="3.0"/>
<circle cx="804.2" cy="319.0" r="9.2" fill="none" stroke="#000000" stroke-width="2.5"/>
<line x1="803.0" y1="321.2" x2="803.0" y2="322.8" stroke="#000000" stroke-width="3.0"/>
<circle cx="803.0" cy="322.0" r="9.2" fill="none" stroke="#000000" stroke-width="2.5"/>
<line x1="801.4" y1="325.0" x2="801.4" y2="326.6" stroke="#000000" stroke-width="3.0"/>
<circle cx="801.4" cy="325.8" r="9.2" fill="none" stroke="#000000" stroke-width="2.5"/>
<line x1="858.0" y1="186.2" x2="858.0" y2="187.8" stroke="#000000" stroke-width="3.0"/>
<circle cx="858.0" cy="187.0" r="9.2" fill="none" stroke="#000000" stroke-width="2.5"/>
<line x1="865.0" y1="184.2" x2="865.0" y2="185.8" stroke="#000000" stroke-width="3.0"/>
<circle cx="865.0" cy="185.0" r="9.2" fill="none" stroke="#000000" stroke-width="2.5"/>
<line x1="872.3" y1="181.0" x2="872.3" y2="182.6" stroke="#000000" stroke-width="3.0"/>
<circle cx="872.3" cy="181.8" r="9.2" fill="none" stroke="#000000" stroke-width="2.5"/>
<line x1="894.5" y1="178.7" x2="894.5" y2="180.3" stroke="#000000" stroke-width="3.0"/>
<circle cx="894.5" cy="179.5" r="9.2" fill="none" stroke="#000000" stroke-width="2.5"/>
<line x1="926.7" y1="170.6" x2="926.7" y2="172.2" stroke="#000000" stroke-width="3.0"/>
<circle cx="926.7" cy="171.4" r="9.2" fill="none" stroke="#000000" stroke-width="2.5"/>
<line x1="926.7" y1="169.0" x2="926.7" y2="170.6" stroke="#000000" stroke-width="3.0"/>
<circle cx="926.7" cy="169.8" r="9.2" fill="none" stroke="#000000" stroke-width="2.5"/>
<line x1="950.5" y1="170.6" x2="950.5" y2="172.2" stroke="#000000" stroke-width="3.0"/>
<circle cx="950.5" cy="171.4" r="9.2" fill="none" stroke="#000000" stroke-width="2.5"/>
<line x1="952.5" y1="171.6" x2="952.5" y2="173.2" stroke="#000000" stroke-width="3.0"/>
<circle cx="952.5" cy="172.4" r="9.2" fill="none" stroke="#000000" stroke-width="2.5"/>
<line x1="954.5" y1="170.2" x2="954.5" y2="171.8" stroke="#000000" stroke-width="3.0"/>
<circle cx="954.5" cy="171.0" r="9.2" fill="none" stroke="#000000" stroke-width="2.5"/>
<line x1="956.5" y1="171.6" x2="956.5" y2="173.2" stroke="#000000" stroke-width="3.0"/>
<circle cx="956.5" cy="172.4" r="9.2" fill="none" stroke="#000000" stroke-width="2.5"/>
<line x1="958.5" y1="170.6" x2="958.5" y2="172.2" stroke="#000000" stroke-width="3.0"/>
<circle cx="958.5" cy="171.4" r="9.2" fill="none" stroke="#000000" stroke-width="2.5"/>
<line x1="977.8" y1="170.6" x2="977.8" y2="172.2" stroke="#000000" stroke-width="3.0"/>
<circle cx="977.8" cy="171.4" r="9.2" fill="none" stroke="#000000" stroke-width="2.5"/>
<line x1="985.9" y1="170.6" x2="985.9" y2="172.2" stroke="#000000" stroke-width="3.0"/>
<circle cx="985.9" cy="171.4" r="9.2" fill="none" stroke="#000000" stroke-width="2.5"/>
<line x1="1074.0" y1="168.4" x2="1074.0" y2="170.0" stroke="#000000" stroke-width="3.0"/>
<circle cx="1074.0" cy="169.2" r="9.2" fill="none" stroke="#000000" stroke-width="2.5"/>
<line x1="1095.9" y1="167.9" x2="1095.9" y2="169.5" stroke="#000000" stroke-width="3.0"/>
<circle cx="1095.9" cy="168.7" r="9.2" fill="none" stroke="#000000" stroke-width="2.5"/>
<line x1="1156.6" y1="166.9" x2="1156.6" y2="168.5" stroke="#000000" stroke-width="3.0"/>
<circle cx="1156.6" cy="167.7" r="9.2" fill="none" stroke="#000000" stroke-width="2.5"/>
<line x1="1216.6" y1="168.5" x2="1216.6" y2="170.1" stroke="#000000" stroke-width="3.0"/>
<circle cx="1216.6" cy="169.3" r="9.2" fill="none" stroke="#000000" stroke-width="2.5"/>
<line x1="1216.6" y1="169.5" x2="1216.6" y2="171.1" stroke="#000000" stroke-width="3.0"/>
<circle cx="1216.6" cy="170.3" r="9.2" fill="none" stroke="#000000" stroke-width="2.5"/>
<line x1="1277.2" y1="172.1" x2="1277.2" y2="173.7" stroke="#000000" stroke-width="3.0"/>
<circle cx="1277.2" cy="172.9" r="9.2" fill="none" stroke="#000000" stroke-width="2.5"/>
<line x1="1277.2" y1="173.6" x2="1277.2" y2="175.2" stroke="#000000" stroke-width="3.0"/>
<circle cx="1277.2" cy="174.4" r="9.2" fill="none" stroke="#000000" stroke-width="2.5"/>
<line x1="1277.2" y1="175.1" x2="1277.2" y2="176.7" stroke="#000000" stroke-width="3.0"/>
<circle cx="1277.2" cy="175.9" r="9.2" fill="none" stroke="#000000" stroke-width="2.5"/>
<line x1="806.8" y1="307.0" x2="803.4" y2="320.0" stroke="#000000" stroke-width="9.5" />
<circle cx="833.0" cy="209.5" r="10.5" fill="#000000"/>
<circle cx="836.5" cy="208.0" r="10" fill="#000000"/>
<circle cx="894.3" cy="173.5" r="10.6" fill="#000000"/>
<circle cx="898.5" cy="174.5" r="10.4" fill="#000000"/>
<circle cx="1036.7" cy="169.6" r="9.0" fill="none" stroke="#000000" stroke-width="2.6"/>
<line x1="1074.0" y1="160.7" x2="1074.0" y2="178.6" stroke="#000000" stroke-width="3.2"/>
<path d="M848,204 L848,190 L850,176" fill="none" stroke="#ff0000" stroke-width="19" stroke-linecap="round" stroke-linejoin="round"/>
<path d="M853,196 L864,181" fill="none" stroke="#ff0000" stroke-width="19" stroke-linecap="round" stroke-linejoin="round"/>
<path d="M840.5,204 L846,196" fill="none" stroke="#ff0000" stroke-width="19" stroke-linecap="round" stroke-linejoin="round"/>
<path d="M845,178 L852,170 L860,168" fill="none" stroke="#ff0000" stroke-width="19" stroke-linecap="round" stroke-linejoin="round"/>
<path d="M940,133 L942,150 L946,156" fill="none" stroke="#ff0000" stroke-width="19" stroke-linecap="round" stroke-linejoin="round"/>
<path d="M933,140 L950,142" fill="none" stroke="#ff0000" stroke-width="19" stroke-linecap="round" stroke-linejoin="round"/>
<path d="M966,145 L982,145" fill="none" stroke="#ff0000" stroke-width="19" stroke-linecap="round" stroke-linejoin="round"/>
<path d="M1040.3,142 L1040.3,161" fill="none" stroke="#ff0000" stroke-width="19" stroke-linecap="round" stroke-linejoin="round"/>
<path d="M1118,140 L1133,146" fill="none" stroke="#ff0000" stroke-width="19" stroke-linecap="round" stroke-linejoin="round"/>
<line x1="791.8" y1="354.2" x2="791.8" y2="356.2" stroke="#ff0000" stroke-width="3.2"/>
<circle cx="791.8" cy="355.2" r="9.3" fill="none" stroke="#ff0000" stroke-width="2.9"/>
<line x1="788.6" y1="365.0" x2="788.6" y2="367.0" stroke="#ff0000" stroke-width="3.2"/>
<circle cx="788.6" cy="366.0" r="9.3" fill="none" stroke="#ff0000" stroke-width="2.9"/>
<line x1="788.1" y1="370.4" x2="788.1" y2="372.4" stroke="#ff0000" stroke-width="3.2"/>
<circle cx="788.1" cy="371.4" r="9.3" fill="none" stroke="#ff0000" stroke-width="2.9"/>
<line x1="787.6" y1="375.5" x2="787.6" y2="377.5" stroke="#ff0000" stroke-width="3.2"/>
<circle cx="787.6" cy="376.5" r="9.3" fill="none" stroke="#ff0000" stroke-width="2.9"/>
<line x1="787.0" y1="380.0" x2="787.0" y2="382.0" stroke="#ff0000" stroke-width="3.2"/>
<circle cx="787.0" cy="381.0" r="9.3" fill="none" stroke="#ff0000" stroke-width="2.9"/>
<line x1="786.8" y1="385.0" x2="786.8" y2="387.0" stroke="#ff0000" stroke-width="3.2"/>
<circle cx="786.8" cy="386.0" r="9.3" fill="none" stroke="#ff0000" stroke-width="2.9"/>
<line x1="786.6" y1="389.6" x2="786.6" y2="391.6" stroke="#ff0000" stroke-width="3.2"/>
<circle cx="786.6" cy="390.6" r="9.3" fill="none" stroke="#ff0000" stroke-width="2.9"/>
<line x1="819.8" y1="261.2" x2="819.8" y2="263.2" stroke="#ff0000" stroke-width="3.2"/>
<circle cx="819.8" cy="262.2" r="9.3" fill="none" stroke="#ff0000" stroke-width="2.9"/>
<line x1="819.8" y1="254.5" x2="819.8" y2="256.5" stroke="#ff0000" stroke-width="3.2"/>
<circle cx="819.8" cy="255.5" r="9.3" fill="none" stroke="#ff0000" stroke-width="2.9"/>
<line x1="819.8" y1="249.1" x2="819.8" y2="251.1" stroke="#ff0000" stroke-width="3.2"/>
<circle cx="819.8" cy="250.1" r="9.3" fill="none" stroke="#ff0000" stroke-width="2.9"/>
<line x1="822.5" y1="239.6" x2="822.5" y2="241.6" stroke="#ff0000" stroke-width="3.2"/>
<circle cx="822.5" cy="240.6" r="9.3" fill="none" stroke="#ff0000" stroke-width="2.9"/>
<line x1="826.5" y1="232.9" x2="826.5" y2="234.9" stroke="#ff0000" stroke-width="3.2"/>
<circle cx="826.5" cy="233.9" r="9.3" fill="none" stroke="#ff0000" stroke-width="2.9"/>
<line x1="830.6" y1="224.8" x2="830.6" y2="226.8" stroke="#ff0000" stroke-width="3.2"/>
<circle cx="830.6" cy="225.8" r="9.3" fill="none" stroke="#ff0000" stroke-width="2.9"/>
<line x1="831.9" y1="231.6" x2="831.9" y2="233.6" stroke="#ff0000" stroke-width="3.2"/>
<circle cx="831.9" cy="232.6" r="9.3" fill="none" stroke="#ff0000" stroke-width="2.9"/>
<line x1="821.0" y1="244.0" x2="821.0" y2="246.0" stroke="#ff0000" stroke-width="3.2"/>
<circle cx="821.0" cy="245.0" r="9.3" fill="none" stroke="#ff0000" stroke-width="2.9"/>
<line x1="824.0" y1="236.0" x2="824.0" y2="238.0" stroke="#ff0000" stroke-width="3.2"/>
<circle cx="824.0" cy="237.0" r="9.3" fill="none" stroke="#ff0000" stroke-width="2.9"/>
<line x1="828.0" y1="228.0" x2="828.0" y2="230.0" stroke="#ff0000" stroke-width="3.2"/>
<circle cx="828.0" cy="229.0" r="9.3" fill="none" stroke="#ff0000" stroke-width="2.9"/>
<line x1="829.0" y1="226.0" x2="829.0" y2="228.0" stroke="#ff0000" stroke-width="3.2"/>
<circle cx="829.0" cy="227.0" r="9.3" fill="none" stroke="#ff0000" stroke-width="2.9"/>
<line x1="832.0" y1="228.0" x2="832.0" y2="230.0" stroke="#ff0000" stroke-width="3.2"/>
<circle cx="832.0" cy="229.0" r="9.3" fill="none" stroke="#ff0000" stroke-width="2.9"/>
<line x1="827.0" y1="230.0" x2="827.0" y2="232.0" stroke="#ff0000" stroke-width="3.2"/>
<circle cx="827.0" cy="231.0" r="9.3" fill="none" stroke="#ff0000" stroke-width="2.9"/>
<line x1="830.0" y1="232.0" x2="830.0" y2="234.0" stroke="#ff0000" stroke-width="3.2"/>
<circle cx="830.0" cy="233.0" r="9.3" fill="none" stroke="#ff0000" stroke-width="2.9"/>
<line x1="825.0" y1="235.0" x2="825.0" y2="237.0" stroke="#ff0000" stroke-width="3.2"/>
<circle cx="825.0" cy="236.0" r="9.3" fill="none" stroke="#ff0000" stroke-width="2.9"/>
<line x1="850.8" y1="155.7" x2="850.8" y2="157.7" stroke="#ff0000" stroke-width="3.2"/>
<circle cx="850.8" cy="156.7" r="9.3" fill="none" stroke="#ff0000" stroke-width="2.9"/>
<line x1="858.0" y1="157.0" x2="858.0" y2="159.0" stroke="#ff0000" stroke-width="3.2"/>
<circle cx="858.0" cy="158.0" r="9.3" fill="none" stroke="#ff0000" stroke-width="2.9"/>
<line x1="864.2" y1="153.0" x2="864.2" y2="155.0" stroke="#ff0000" stroke-width="3.2"/>
<circle cx="864.2" cy="154.0" r="9.3" fill="none" stroke="#ff0000" stroke-width="2.9"/>
<line x1="870.0" y1="155.0" x2="870.0" y2="157.0" stroke="#ff0000" stroke-width="3.2"/>
<circle cx="870.0" cy="156.0" r="9.3" fill="none" stroke="#ff0000" stroke-width="2.9"/>
<line x1="877.7" y1="159.3" x2="877.7" y2="161.3" stroke="#ff0000" stroke-width="3.2"/>
<circle cx="877.7" cy="160.3" r="9.3" fill="none" stroke="#ff0000" stroke-width="2.9"/>
<line x1="879.5" y1="171.8" x2="879.5" y2="173.8" stroke="#ff0000" stroke-width="3.2"/>
<circle cx="879.5" cy="172.8" r="9.3" fill="none" stroke="#ff0000" stroke-width="2.9"/>
<line x1="872.0" y1="169.0" x2="872.0" y2="171.0" stroke="#ff0000" stroke-width="3.2"/>
<circle cx="872.0" cy="170.0" r="9.3" fill="none" stroke="#ff0000" stroke-width="2.9"/>
<line x1="866.0" y1="165.0" x2="866.0" y2="167.0" stroke="#ff0000" stroke-width="3.2"/>
<circle cx="866.0" cy="166.0" r="9.3" fill="none" stroke="#ff0000" stroke-width="2.9"/>
<line x1="891.5" y1="142.0" x2="891.5" y2="144.0" stroke="#ff0000" stroke-width="3.2"/>
<circle cx="891.5" cy="143.0" r="9.3" fill="none" stroke="#ff0000" stroke-width="2.9"/>
<line x1="890.3" y1="146.7" x2="890.3" y2="148.7" stroke="#ff0000" stroke-width="3.2"/>
<circle cx="890.3" cy="147.7" r="9.3" fill="none" stroke="#ff0000" stroke-width="2.9"/>
<line x1="886.0" y1="145.0" x2="886.0" y2="147.0" stroke="#ff0000" stroke-width="3.2"/>
<circle cx="886.0" cy="146.0" r="9.3" fill="none" stroke="#ff0000" stroke-width="2.9"/>
<line x1="866.0" y1="159.0" x2="866.0" y2="161.0" stroke="#ff0000" stroke-width="3.2"/>
<circle cx="866.0" cy="160.0" r="9.3" fill="none" stroke="#ff0000" stroke-width="2.9"/>
<line x1="872.0" y1="163.0" x2="872.0" y2="165.0" stroke="#ff0000" stroke-width="3.2"/>
<circle cx="872.0" cy="164.0" r="9.3" fill="none" stroke="#ff0000" stroke-width="2.9"/>
<line x1="862.0" y1="162.0" x2="862.0" y2="164.0" stroke="#ff0000" stroke-width="3.2"/>
<circle cx="862.0" cy="163.0" r="9.3" fill="none" stroke="#ff0000" stroke-width="2.9"/>
<line x1="876.0" y1="165.0" x2="876.0" y2="167.0" stroke="#ff0000" stroke-width="3.2"/>
<circle cx="876.0" cy="166.0" r="9.3" fill="none" stroke="#ff0000" stroke-width="2.9"/>
<line x1="858.0" y1="164.0" x2="858.0" y2="166.0" stroke="#ff0000" stroke-width="3.2"/>
<circle cx="858.0" cy="165.0" r="9.3" fill="none" stroke="#ff0000" stroke-width="2.9"/>
<line x1="855.0" y1="159.0" x2="855.0" y2="161.0" stroke="#ff0000" stroke-width="3.2"/>
<circle cx="855.0" cy="160.0" r="9.3" fill="none" stroke="#ff0000" stroke-width="2.9"/>
<line x1="895.0" y1="151.0" x2="895.0" y2="153.0" stroke="#ff0000" stroke-width="3.2"/>
<circle cx="895.0" cy="152.0" r="9.3" fill="none" stroke="#ff0000" stroke-width="2.9"/>
<line x1="902.8" y1="149.4" x2="902.8" y2="151.4" stroke="#ff0000" stroke-width="3.2"/>
<circle cx="902.8" cy="150.4" r="9.3" fill="none" stroke="#ff0000" stroke-width="2.9"/>
<line x1="908.0" y1="149.0" x2="908.0" y2="151.0" stroke="#ff0000" stroke-width="3.2"/>
<circle cx="908.0" cy="150.0" r="9.3" fill="none" stroke="#ff0000" stroke-width="2.9"/>
<line x1="917.2" y1="148.5" x2="917.2" y2="150.5" stroke="#ff0000" stroke-width="3.2"/>
<circle cx="917.2" cy="149.5" r="9.3" fill="none" stroke="#ff0000" stroke-width="2.9"/>
<line x1="916.3" y1="157.5" x2="916.3" y2="159.5" stroke="#ff0000" stroke-width="3.2"/>
<circle cx="916.3" cy="158.5" r="9.3" fill="none" stroke="#ff0000" stroke-width="2.9"/>
<line x1="922.2" y1="147.1" x2="922.2" y2="149.1" stroke="#ff0000" stroke-width="3.2"/>
<circle cx="922.2" cy="148.1" r="9.3" fill="none" stroke="#ff0000" stroke-width="2.9"/>
<line x1="917.7" y1="154.3" x2="917.7" y2="156.3" stroke="#ff0000" stroke-width="3.2"/>
<circle cx="917.7" cy="155.3" r="9.3" fill="none" stroke="#ff0000" stroke-width="2.9"/>
<line x1="926.7" y1="146.2" x2="926.7" y2="148.2" stroke="#ff0000" stroke-width="3.2"/>
<circle cx="926.7" cy="147.2" r="9.3" fill="none" stroke="#ff0000" stroke-width="2.9"/>
<line x1="884.0" y1="157.0" x2="884.0" y2="159.0" stroke="#ff0000" stroke-width="3.2"/>
<circle cx="884.0" cy="158.0" r="9.3" fill="none" stroke="#ff0000" stroke-width="2.9"/>
<line x1="940.1" y1="122.0" x2="940.1" y2="124.0" stroke="#ff0000" stroke-width="3.2"/>
<circle cx="940.1" cy="123.0" r="9.3" fill="none" stroke="#ff0000" stroke-width="2.9"/>
<line x1="936.0" y1="127.0" x2="936.0" y2="129.0" stroke="#ff0000" stroke-width="3.2"/>
<circle cx="936.0" cy="128.0" r="9.3" fill="none" stroke="#ff0000" stroke-width="2.9"/>
<line x1="944.0" y1="126.0" x2="944.0" y2="128.0" stroke="#ff0000" stroke-width="3.2"/>
<circle cx="944.0" cy="127.0" r="9.3" fill="none" stroke="#ff0000" stroke-width="2.9"/>
<line x1="935.0" y1="137.0" x2="935.0" y2="139.0" stroke="#ff0000" stroke-width="3.2"/>
<circle cx="935.0" cy="138.0" r="9.3" fill="none" stroke="#ff0000" stroke-width="2.9"/>
<line x1="948.0" y1="135.0" x2="948.0" y2="137.0" stroke="#ff0000" stroke-width="3.2"/>
<circle cx="948.0" cy="136.0" r="9.3" fill="none" stroke="#ff0000" stroke-width="2.9"/>
<line x1="932.0" y1="149.0" x2="932.0" y2="151.0" stroke="#ff0000" stroke-width="3.2"/>
<circle cx="932.0" cy="150.0" r="9.3" fill="none" stroke="#ff0000" stroke-width="2.9"/>
<line x1="945.0" y1="149.0" x2="945.0" y2="151.0" stroke="#ff0000" stroke-width="3.2"/>
<circle cx="945.0" cy="150.0" r="9.3" fill="none" stroke="#ff0000" stroke-width="2.9"/>
<line x1="939.2" y1="161.5" x2="939.2" y2="163.5" stroke="#ff0000" stroke-width="3.2"/>
<circle cx="939.2" cy="162.5" r="9.3" fill="none" stroke="#ff0000" stroke-width="2.9"/>
<line x1="944.0" y1="159.0" x2="944.0" y2="161.0" stroke="#ff0000" stroke-width="3.2"/>
<circle cx="944.0" cy="160.0" r="9.3" fill="none" stroke="#ff0000" stroke-width="2.9"/>
<line x1="952.0" y1="155.0" x2="952.0" y2="157.0" stroke="#ff0000" stroke-width="3.2"/>
<circle cx="952.0" cy="156.0" r="9.3" fill="none" stroke="#ff0000" stroke-width="2.9"/>
<line x1="955.0" y1="145.0" x2="955.0" y2="147.0" stroke="#ff0000" stroke-width="3.2"/>
<circle cx="955.0" cy="146.0" r="9.3" fill="none" stroke="#ff0000" stroke-width="2.9"/>
<line x1="971.6" y1="126.4" x2="971.6" y2="128.4" stroke="#ff0000" stroke-width="3.2"/>
<circle cx="971.6" cy="127.4" r="9.3" fill="none" stroke="#ff0000" stroke-width="2.9"/>
<line x1="973.3" y1="132.7" x2="973.3" y2="134.7" stroke="#ff0000" stroke-width="3.2"/>
<circle cx="973.3" cy="133.7" r="9.3" fill="none" stroke="#ff0000" stroke-width="2.9"/>
<line x1="966.0" y1="139.0" x2="966.0" y2="141.0" stroke="#ff0000" stroke-width="3.2"/>
<circle cx="966.0" cy="140.0" r="9.3" fill="none" stroke="#ff0000" stroke-width="2.9"/>
<line x1="980.0" y1="141.0" x2="980.0" y2="143.0" stroke="#ff0000" stroke-width="3.2"/>
<circle cx="980.0" cy="142.0" r="9.3" fill="none" stroke="#ff0000" stroke-width="2.9"/>
<line x1="984.0" y1="146.0" x2="984.0" y2="148.0" stroke="#ff0000" stroke-width="3.2"/>
<circle cx="984.0" cy="147.0" r="9.3" fill="none" stroke="#ff0000" stroke-width="2.9"/>
<line x1="970.0" y1="148.0" x2="970.0" y2="150.0" stroke="#ff0000" stroke-width="3.2"/>
<circle cx="970.0" cy="149.0" r="9.3" fill="none" stroke="#ff0000" stroke-width="2.9"/>
<line x1="993.1" y1="144.4" x2="993.1" y2="146.4" stroke="#ff0000" stroke-width="3.2"/>
<circle cx="993.1" cy="145.4" r="9.3" fill="none" stroke="#ff0000" stroke-width="2.9"/>
<line x1="962.0" y1="149.0" x2="962.0" y2="151.0" stroke="#ff0000" stroke-width="3.2"/>
<circle cx="962.0" cy="150.0" r="9.3" fill="none" stroke="#ff0000" stroke-width="2.9"/>
<line x1="992.7" y1="145.3" x2="992.7" y2="147.3" stroke="#ff0000" stroke-width="3.2"/>
<circle cx="992.7" cy="146.3" r="9.3" fill="none" stroke="#ff0000" stroke-width="2.9"/>
<line x1="1012.9" y1="138.0" x2="1012.9" y2="140.0" stroke="#ff0000" stroke-width="3.2"/>
<circle cx="1012.9" cy="139.0" r="9.3" fill="none" stroke="#ff0000" stroke-width="2.9"/>
<line x1="1012.4" y1="142.0" x2="1012.4" y2="144.0" stroke="#ff0000" stroke-width="3.2"/>
<circle cx="1012.4" cy="143.0" r="9.3" fill="none" stroke="#ff0000" stroke-width="2.9"/>
<line x1="1012.0" y1="146.0" x2="1012.0" y2="148.0" stroke="#ff0000" stroke-width="3.2"/>
<circle cx="1012.0" cy="147.0" r="9.3" fill="none" stroke="#ff0000" stroke-width="2.9"/>
<line x1="1011.5" y1="150.0" x2="1011.5" y2="152.0" stroke="#ff0000" stroke-width="3.2"/>
<circle cx="1011.5" cy="151.0" r="9.3" fill="none" stroke="#ff0000" stroke-width="2.9"/>
<line x1="1011.0" y1="153.5" x2="1011.0" y2="155.5" stroke="#ff0000" stroke-width="3.2"/>
<circle cx="1011.0" cy="154.5" r="9.3" fill="none" stroke="#ff0000" stroke-width="2.9"/>
<line x1="1040.3" y1="140.0" x2="1040.3" y2="142.0" stroke="#ff0000" stroke-width="3.2"/>
<circle cx="1040.3" cy="141.0" r="9.3" fill="none" stroke="#ff0000" stroke-width="2.9"/>
<line x1="1040.3" y1="145.0" x2="1040.3" y2="147.0" stroke="#ff0000" stroke-width="3.2"/>
<circle cx="1040.3" cy="146.0" r="9.3" fill="none" stroke="#ff0000" stroke-width="2.9"/>
<line x1="1040.3" y1="150.0" x2="1040.3" y2="152.0" stroke="#ff0000" stroke-width="3.2"/>
<circle cx="1040.3" cy="151.0" r="9.3" fill="none" stroke="#ff0000" stroke-width="2.9"/>
<line x1="1040.3" y1="155.0" x2="1040.3" y2="157.0" stroke="#ff0000" stroke-width="3.2"/>
<circle cx="1040.3" cy="156.0" r="9.3" fill="none" stroke="#ff0000" stroke-width="2.9"/>
<line x1="1040.3" y1="160.0" x2="1040.3" y2="162.0" stroke="#ff0000" stroke-width="3.2"/>
<circle cx="1040.3" cy="161.0" r="9.3" fill="none" stroke="#ff0000" stroke-width="2.9"/>
<line x1="1039.5" y1="162.0" x2="1039.5" y2="164.0" stroke="#ff0000" stroke-width="3.2"/>
<circle cx="1039.5" cy="163.0" r="9.3" fill="none" stroke="#ff0000" stroke-width="2.9"/>
<line x1="1041.0" y1="143.0" x2="1041.0" y2="145.0" stroke="#ff0000" stroke-width="3.2"/>
<circle cx="1041.0" cy="144.0" r="9.3" fill="none" stroke="#ff0000" stroke-width="2.9"/>
<line x1="1039.0" y1="153.0" x2="1039.0" y2="155.0" stroke="#ff0000" stroke-width="3.2"/>
<circle cx="1039.0" cy="154.0" r="9.3" fill="none" stroke="#ff0000" stroke-width="2.9"/>
<line x1="1060.5" y1="118.5" x2="1060.5" y2="120.5" stroke="#ff0000" stroke-width="3.2"/>
<circle cx="1060.5" cy="119.5" r="9.3" fill="none" stroke="#ff0000" stroke-width="2.9"/>
<line x1="1065.4" y1="130.9" x2="1065.4" y2="132.9" stroke="#ff0000" stroke-width="3.2"/>
<circle cx="1065.4" cy="131.9" r="9.3" fill="none" stroke="#ff0000" stroke-width="2.9"/>
<line x1="1071.7" y1="134.5" x2="1071.7" y2="136.5" stroke="#ff0000" stroke-width="3.2"/>
<circle cx="1071.7" cy="135.5" r="9.3" fill="none" stroke="#ff0000" stroke-width="2.9"/>
<line x1="1063.6" y1="139.9" x2="1063.6" y2="141.9" stroke="#ff0000" stroke-width="3.2"/>
<circle cx="1063.6" cy="140.9" r="9.3" fill="none" stroke="#ff0000" stroke-width="2.9"/>
<line x1="1063.6" y1="146.2" x2="1063.6" y2="148.2" stroke="#ff0000" stroke-width="3.2"/>
<circle cx="1063.6" cy="147.2" r="9.3" fill="none" stroke="#ff0000" stroke-width="2.9"/>
<line x1="1064.5" y1="150.7" x2="1064.5" y2="152.7" stroke="#ff0000" stroke-width="3.2"/>
<circle cx="1064.5" cy="151.7" r="9.3" fill="none" stroke="#ff0000" stroke-width="2.9"/>
<line x1="1068.0" y1="141.0" x2="1068.0" y2="143.0" stroke="#ff0000" stroke-width="3.2"/>
<circle cx="1068.0" cy="142.0" r="9.3" fill="none" stroke="#ff0000" stroke-width="2.9"/>
<line x1="1096.8" y1="132.7" x2="1096.8" y2="134.7" stroke="#ff0000" stroke-width="3.2"/>
<circle cx="1096.8" cy="133.7" r="9.3" fill="none" stroke="#ff0000" stroke-width="2.9"/>
<line x1="1097.7" y1="138.1" x2="1097.7" y2="140.1" stroke="#ff0000" stroke-width="3.2"/>
<circle cx="1097.7" cy="139.1" r="9.3" fill="none" stroke="#ff0000" stroke-width="2.9"/>
<line x1="1098.6" y1="142.6" x2="1098.6" y2="144.6" stroke="#ff0000" stroke-width="3.2"/>
<circle cx="1098.6" cy="143.6" r="9.3" fill="none" stroke="#ff0000" stroke-width="2.9"/>
<line x1="1098.6" y1="147.1" x2="1098.6" y2="149.1" stroke="#ff0000" stroke-width="3.2"/>
<circle cx="1098.6" cy="148.1" r="9.3" fill="none" stroke="#ff0000" stroke-width="2.9"/>
<line x1="1118.3" y1="129.1" x2="1118.3" y2="131.1" stroke="#ff0000" stroke-width="3.2"/>
<circle cx="1118.3" cy="130.1" r="9.3" fill="none" stroke="#ff0000" stroke-width="2.9"/>
<line x1="1118.3" y1="139.9" x2="1118.3" y2="141.9" stroke="#ff0000" stroke-width="3.2"/>
<circle cx="1118.3" cy="140.9" r="9.3" fill="none" stroke="#ff0000" stroke-width="2.9"/>
<line x1="1131.8" y1="135.4" x2="1131.8" y2="137.4" stroke="#ff0000" stroke-width="3.2"/>
<circle cx="1131.8" cy="136.4" r="9.3" fill="none" stroke="#ff0000" stroke-width="2.9"/>
<line x1="1133.6" y1="150.7" x2="1133.6" y2="152.7" stroke="#ff0000" stroke-width="3.2"/>
<circle cx="1133.6" cy="151.7" r="9.3" fill="none" stroke="#ff0000" stroke-width="2.9"/>
<line x1="1122.0" y1="145.0" x2="1122.0" y2="147.0" stroke="#ff0000" stroke-width="3.2"/>
<circle cx="1122.0" cy="146.0" r="9.3" fill="none" stroke="#ff0000" stroke-width="2.9"/>
<line x1="1128.0" y1="142.0" x2="1128.0" y2="144.0" stroke="#ff0000" stroke-width="3.2"/>
<circle cx="1128.0" cy="143.0" r="9.3" fill="none" stroke="#ff0000" stroke-width="2.9"/>
<line x1="1115.0" y1="147.0" x2="1115.0" y2="149.0" stroke="#ff0000" stroke-width="3.2"/>
<circle cx="1115.0" cy="148.0" r="9.3" fill="none" stroke="#ff0000" stroke-width="2.9"/>
<line x1="1137.0" y1="145.0" x2="1137.0" y2="147.0" stroke="#ff0000" stroke-width="3.2"/>
<circle cx="1137.0" cy="146.0" r="9.3" fill="none" stroke="#ff0000" stroke-width="2.9"/>
<line x1="1124.0" y1="135.0" x2="1124.0" y2="137.0" stroke="#ff0000" stroke-width="3.2"/>
<circle cx="1124.0" cy="136.0" r="9.3" fill="none" stroke="#ff0000" stroke-width="2.9"/>
<line x1="1200.0" y1="144.5" x2="1200.0" y2="146.5" stroke="#ff0000" stroke-width="3.2"/>
<circle cx="1200.0" cy="145.5" r="9.3" fill="none" stroke="#ff0000" stroke-width="2.9"/>
<line x1="1230.3" y1="145.5" x2="1230.3" y2="147.5" stroke="#ff0000" stroke-width="3.2"/>
<circle cx="1230.3" cy="146.5" r="9.3" fill="none" stroke="#ff0000" stroke-width="2.9"/>
<line x1="1260.2" y1="145.5" x2="1260.2" y2="147.5" stroke="#ff0000" stroke-width="3.2"/>
<circle cx="1260.2" cy="146.5" r="9.3" fill="none" stroke="#ff0000" stroke-width="2.9"/>
<line x1="1289.5" y1="147.0" x2="1289.5" y2="149.0" stroke="#ff0000" stroke-width="3.2"/>
<circle cx="1289.5" cy="148.0" r="9.3" fill="none" stroke="#ff0000" stroke-width="2.9"/>
<line x1="1323.6" y1="147.6" x2="1323.6" y2="149.6" stroke="#ff0000" stroke-width="3.2"/>
<circle cx="1323.6" cy="148.6" r="9.3" fill="none" stroke="#ff0000" stroke-width="2.9"/>
<line x1="786.0" y1="380.0" x2="786.0" y2="402.6" stroke="#ff0000" stroke-width="3.2"/>
<line x1="1060.5" y1="115.0" x2="1060.5" y2="124.0" stroke="#ff0000" stroke-width="3.2"/>
<text x="1235.0" y="80.7" font-size="37.0" fill="#000" text-anchor="start" >r (R)</text>
<rect x="126.0" y="426.0" width="639.00" height="374.00" fill="none" stroke="#000" stroke-width="1.8"/>
<line x1="154.8" y1="800.0" x2="154.8" y2="807.7" stroke="#000" stroke-width="1.5" />
<text x="154.8" y="838.0" font-size="29.8" fill="#000" text-anchor="middle" >0</text>
<line x1="300.1" y1="800.0" x2="300.1" y2="807.7" stroke="#000" stroke-width="1.5" />
<text x="300.1" y="838.0" font-size="29.8" fill="#000" text-anchor="middle" >5</text>
<line x1="445.4" y1="800.0" x2="445.4" y2="807.7" stroke="#000" stroke-width="1.5" />
<text x="445.4" y="838.0" font-size="29.8" fill="#000" text-anchor="middle" >10</text>
<line x1="590.7" y1="800.0" x2="590.7" y2="807.7" stroke="#000" stroke-width="1.5" />
<text x="590.7" y="838.0" font-size="29.8" fill="#000" text-anchor="middle" >15</text>
<line x1="736.0" y1="800.0" x2="736.0" y2="807.7" stroke="#000" stroke-width="1.5" />
<text x="736.0" y="838.0" font-size="29.8" fill="#000" text-anchor="middle" >20</text>
<line x1="118.2" y1="426.0" x2="126.0" y2="426.0" stroke="#000" stroke-width="1.5" />
<text x="109.5" y="436.9" font-size="29.8" fill="#000" text-anchor="end" >2</text>
<line x1="118.2" y1="500.8" x2="126.0" y2="500.8" stroke="#000" stroke-width="1.5" />
<text x="109.5" y="511.7" font-size="29.8" fill="#000" text-anchor="end" >1</text>
<line x1="118.2" y1="575.6" x2="126.0" y2="575.6" stroke="#000" stroke-width="1.5" />
<text x="109.5" y="586.5" font-size="29.8" fill="#000" text-anchor="end" >0</text>
<line x1="118.2" y1="650.3" x2="126.0" y2="650.3" stroke="#000" stroke-width="1.5" />
<text x="109.5" y="661.2" font-size="29.8" fill="#000" text-anchor="end" >−1</text>
<line x1="118.2" y1="725.1" x2="126.0" y2="725.1" stroke="#000" stroke-width="1.5" />
<text x="109.5" y="736.0" font-size="29.8" fill="#000" text-anchor="end" >−2</text>
<line x1="118.2" y1="799.9" x2="126.0" y2="799.9" stroke="#000" stroke-width="1.5" />
<text x="109.5" y="810.8" font-size="29.8" fill="#000" text-anchor="end" >−3</text>
<line x1="175.8" y1="656.2" x2="175.8" y2="672.2" stroke="#000000" stroke-width="3.4"/>
<circle cx="175.8" cy="664.2" r="9.2" fill="none" stroke="#000000" stroke-width="2.1"/>
<line x1="204.6" y1="636.4" x2="204.6" y2="666.4" stroke="#000000" stroke-width="3.4"/>
<circle cx="204.6" cy="651.4" r="9.2" fill="none" stroke="#000000" stroke-width="2.1"/>
<line x1="233.3" y1="636.5" x2="233.3" y2="668.5" stroke="#000000" stroke-width="3.4"/>
<circle cx="233.3" cy="652.5" r="9.2" fill="none" stroke="#000000" stroke-width="2.1"/>
<line x1="262.5" y1="640.6" x2="262.5" y2="658.6" stroke="#000000" stroke-width="3.4"/>
<circle cx="262.5" cy="649.6" r="9.2" fill="none" stroke="#000000" stroke-width="2.1"/>
<line x1="291.7" y1="606.5" x2="291.7" y2="636.5" stroke="#000000" stroke-width="3.4"/>
<circle cx="291.7" cy="621.5" r="9.2" fill="none" stroke="#000000" stroke-width="2.1"/>
<line x1="349.6" y1="569.8" x2="349.6" y2="589.8" stroke="#000000" stroke-width="3.4"/>
<circle cx="349.6" cy="579.8" r="9.2" fill="none" stroke="#000000" stroke-width="2.1"/>
<line x1="378.5" y1="556.4" x2="378.5" y2="574.4" stroke="#000000" stroke-width="3.4"/>
<circle cx="378.5" cy="565.4" r="9.2" fill="none" stroke="#000000" stroke-width="2.1"/>
<line x1="407.7" y1="543.4" x2="407.7" y2="549.4" stroke="#000000" stroke-width="3.4"/>
<circle cx="407.7" cy="546.4" r="9.2" fill="none" stroke="#000000" stroke-width="2.1"/>
<line x1="436.5" y1="509.2" x2="436.5" y2="545.2" stroke="#000000" stroke-width="3.4"/>
<circle cx="436.5" cy="527.2" r="9.2" fill="none" stroke="#000000" stroke-width="2.1"/>
<line x1="465.7" y1="491.1" x2="465.7" y2="499.1" stroke="#000000" stroke-width="3.4"/>
<circle cx="465.7" cy="495.1" r="9.2" fill="none" stroke="#000000" stroke-width="2.1"/>
<line x1="199.5" y1="719.6" x2="199.5" y2="731.6" stroke="#ff0000" stroke-width="3.2"/>
<rect x="190.5" y="716.6" width="18.0" height="18.0" fill="none" stroke="#ff0000" stroke-width="2.5"/>
<line x1="228.5" y1="746.5" x2="228.5" y2="757.5" stroke="#ff0000" stroke-width="3.2"/>
<rect x="219.5" y="743.0" width="18.0" height="18.0" fill="none" stroke="#ff0000" stroke-width="2.5"/>
<line x1="257.3" y1="710.0" x2="257.3" y2="714.0" stroke="#ff0000" stroke-width="3.2"/>
<rect x="248.3" y="703.0" width="18.0" height="18.0" fill="none" stroke="#ff0000" stroke-width="2.5"/>
<line x1="286.5" y1="694.2" x2="286.5" y2="699.2" stroke="#ff0000" stroke-width="3.2"/>
<rect x="277.5" y="687.7" width="18.0" height="18.0" fill="none" stroke="#ff0000" stroke-width="2.5"/>
<line x1="315.7" y1="717.9" x2="315.7" y2="725.9" stroke="#ff0000" stroke-width="3.2"/>
<rect x="306.7" y="712.9" width="18.0" height="18.0" fill="none" stroke="#ff0000" stroke-width="2.5"/>
<line x1="344.8" y1="626.5" x2="344.8" y2="645.5" stroke="#ff0000" stroke-width="3.2"/>
<rect x="335.8" y="627.0" width="18.0" height="18.0" fill="none" stroke="#ff0000" stroke-width="2.5"/>
<line x1="547.7" y1="529.6" x2="547.7" y2="533.6" stroke="#ff0000" stroke-width="3.2"/>
<rect x="538.7" y="522.6" width="18.0" height="18.0" fill="none" stroke="#ff0000" stroke-width="2.5"/>
<line x1="605.7" y1="485.7" x2="605.7" y2="489.7" stroke="#ff0000" stroke-width="3.2"/>
<rect x="596.7" y="478.7" width="18.0" height="18.0" fill="none" stroke="#ff0000" stroke-width="2.5"/>
<text x="533.0" y="464.0" font-size="37.0" fill="#000" text-anchor="start" >UVM2 - r/R</text>
<defs><clipPath id="clipD"><rect x="778" y="426.7" width="638" height="373.1"/></clipPath></defs>
<line x1="797.8" y1="800.0" x2="797.8" y2="807.7" stroke="#000" stroke-width="1.5" />
<text x="797.8" y="838.0" font-size="29.8" fill="#000" text-anchor="middle" >0</text>
<line x1="900.8" y1="800.0" x2="900.8" y2="807.7" stroke="#000" stroke-width="1.5" />
<text x="900.8" y="838.0" font-size="29.8" fill="#000" text-anchor="middle" >1</text>
<line x1="1003.7" y1="800.0" x2="1003.7" y2="807.7" stroke="#000" stroke-width="1.5" />
<text x="1003.7" y="838.0" font-size="29.8" fill="#000" text-anchor="middle" >2</text>
<line x1="1106.7" y1="800.0" x2="1106.7" y2="807.7" stroke="#000" stroke-width="1.5" />
<text x="1106.7" y="838.0" font-size="29.8" fill="#000" text-anchor="middle" >3</text>
<line x1="1209.7" y1="800.0" x2="1209.7" y2="807.7" stroke="#000" stroke-width="1.5" />
<text x="1209.7" y="838.0" font-size="29.8" fill="#000" text-anchor="middle" >4</text>
<line x1="1312.7" y1="800.0" x2="1312.7" y2="807.7" stroke="#000" stroke-width="1.5" />
<text x="1312.7" y="838.0" font-size="29.8" fill="#000" text-anchor="middle" >5</text>
<line x1="1415.6" y1="800.0" x2="1415.6" y2="807.7" stroke="#000" stroke-width="1.5" />
<text x="1415.6" y="838.0" font-size="29.8" fill="#000" text-anchor="middle" >6</text>
<line x1="1416.0" y1="468.0" x2="1423.7" y2="468.0" stroke="#000" stroke-width="1.5" />
<text x="1432.4" y="478.9" font-size="29.8" fill="#000" text-anchor="start" >−18</text>
<line x1="1416.0" y1="550.9" x2="1423.7" y2="550.9" stroke="#000" stroke-width="1.5" />
<text x="1432.4" y="561.8" font-size="29.8" fill="#000" text-anchor="start" >−16</text>
<line x1="1416.0" y1="633.9" x2="1423.7" y2="633.9" stroke="#000" stroke-width="1.5" />
<text x="1432.4" y="644.8" font-size="29.8" fill="#000" text-anchor="start" >−14</text>
<line x1="1416.0" y1="716.8" x2="1423.7" y2="716.8" stroke="#000" stroke-width="1.5" />
<text x="1432.4" y="727.7" font-size="29.8" fill="#000" text-anchor="start" >−12</text>
<line x1="1416.0" y1="799.8" x2="1423.7" y2="799.8" stroke="#000" stroke-width="1.5" />
<text x="1432.4" y="810.7" font-size="29.8" fill="#000" text-anchor="start" >−10</text>
<g clip-path="url(#clipD)">
<circle cx="823.1" cy="777.0" r="7.6" fill="#000000"/>
<circle cx="833.8" cy="733.2" r="7.6" fill="#000000"/>
<circle cx="858.8" cy="669.6" r="7.6" fill="#000000"/>
<circle cx="856.0" cy="668.0" r="7.6" fill="#000000"/>
<circle cx="861.0" cy="671.0" r="7.6" fill="#000000"/>
<circle cx="860.0" cy="664.0" r="7.6" fill="#000000"/>
<circle cx="866.0" cy="665.0" r="7.6" fill="#000000"/>
<circle cx="863.0" cy="665.0" r="7.6" fill="#000000"/>
<circle cx="867.8" cy="660.6" r="7.6" fill="#000000"/>
<circle cx="871.0" cy="656.0" r="7.6" fill="#000000"/>
<circle cx="874.5" cy="651.6" r="7.6" fill="#000000"/>
<circle cx="877.0" cy="647.0" r="7.6" fill="#000000"/>
<circle cx="880.1" cy="642.6" r="7.6" fill="#000000"/>
<circle cx="883.0" cy="640.0" r="7.6" fill="#000000"/>
<circle cx="916.7" cy="581.0" r="7.6" fill="#000000"/>
<circle cx="966.3" cy="537.5" r="7.6" fill="#000000"/>
<circle cx="970.0" cy="534.0" r="7.6" fill="#000000"/>
<circle cx="974.0" cy="531.0" r="7.6" fill="#000000"/>
<circle cx="978.0" cy="529.0" r="7.6" fill="#000000"/>
<circle cx="982.4" cy="526.4" r="7.6" fill="#000000"/>
<circle cx="1019.8" cy="510.0" r="7.6" fill="#000000"/>
<circle cx="1064.8" cy="503.6" r="7.6" fill="#000000"/>
<circle cx="1066.7" cy="497.0" r="7.6" fill="#000000"/>
<circle cx="1070.0" cy="503.0" r="7.6" fill="#000000"/>
<circle cx="1074.0" cy="502.3" r="7.6" fill="#000000"/>
<circle cx="1079.0" cy="502.3" r="7.6" fill="#000000"/>
<circle cx="1084.6" cy="502.3" r="7.6" fill="#000000"/>
<circle cx="1088.0" cy="501.0" r="7.6" fill="#000000"/>
<circle cx="1122.0" cy="497.4" r="7.6" fill="#000000"/>
<circle cx="1162.4" cy="495.2" r="7.6" fill="#000000"/>
<circle cx="1168.0" cy="492.0" r="7.6" fill="#000000"/>
<circle cx="1176.0" cy="495.0" r="7.6" fill="#000000"/>
<circle cx="1178.4" cy="503.6" r="7.6" fill="#000000"/>
<circle cx="1182.4" cy="493.0" r="7.6" fill="#000000"/>
<circle cx="1186.0" cy="494.0" r="7.6" fill="#000000"/>
<circle cx="1190.3" cy="495.7" r="7.6" fill="#000000"/>
<circle cx="1192.0" cy="492.0" r="7.6" fill="#000000"/>
<circle cx="1281.0" cy="492.0" r="7.6" fill="#000000"/>
<circle cx="1287.0" cy="492.0" r="7.6" fill="#000000"/>
<circle cx="1355.6" cy="489.8" r="7.6" fill="#000000"/>
<circle cx="1379.0" cy="491.0" r="7.6" fill="#000000"/>
<circle cx="1386.0" cy="491.0" r="7.6" fill="#000000"/>
<circle cx="1395.0" cy="490.5" r="7.6" fill="#000000"/>
<circle cx="1385.0" cy="488.0" r="7.6" fill="#000000"/>
<circle cx="1392.0" cy="493.0" r="7.6" fill="#000000"/>
<path d="M825.2,769.0 C826.3,765.0 829.6,752.8 832.0,745.0 C834.4,737.2 837.4,728.5 839.4,722.0 C841.4,715.5 842.9,710.3 844.3,706.0 C845.7,701.7 846.5,700.0 848.0,696.2 C849.5,692.4 850.7,688.4 853.0,683.0 C855.3,677.6 858.8,669.8 862.0,664.0 C865.2,658.2 868.7,652.8 872.0,648.0 C875.3,643.2 878.9,638.9 882.0,635.0 C885.1,631.1 886.5,630.3 890.5,624.5 C894.5,618.7 901.5,606.7 905.9,600.0 C910.3,593.3 912.8,589.3 917.1,584.1 C921.5,578.9 927.0,573.9 932.0,569.0 C937.0,564.1 942.7,559.0 947.0,555.0 C951.3,551.0 950.8,549.7 958.0,545.0 C965.2,540.3 977.2,532.9 990.0,527.0 C1002.8,521.1 1024.2,513.0 1035.0,509.5 C1045.8,506.0 1043.7,507.6 1054.5,506.0 C1065.3,504.4 1084.1,501.2 1100.0,499.6 C1115.9,498.0 1130.2,497.5 1150.0,496.5 C1169.8,495.5 1194.0,494.5 1219.0,493.7 C1244.0,492.9 1267.2,492.1 1300.0,491.6 C1332.8,491.1 1396.7,490.7 1416.0,490.5" fill="none" stroke="#000000" stroke-width="3.3" stroke-dasharray="12.6 5.6"/>
<path d="M822.7,706.0 C824.0,704.1 827.3,699.1 830.7,694.9 C834.1,690.7 837.0,687.3 843.0,681.0 C849.0,674.7 858.8,665.3 867.0,657.0 C875.2,648.7 883.3,640.3 892.0,631.0 C900.7,621.7 908.9,612.7 919.4,601.1 C929.9,589.5 945.5,572.1 955.3,561.6 C965.1,551.1 970.1,545.1 978.0,538.0 C985.9,530.9 992.9,524.8 1002.4,519.0 C1011.9,513.2 1023.1,508.1 1035.0,503.0 C1046.9,497.9 1058.1,493.1 1073.9,488.6 C1089.7,484.1 1110.8,479.3 1130.0,476.0 C1149.2,472.7 1170.6,470.5 1188.9,468.7 C1207.2,466.9 1223.0,466.3 1240.0,465.3 C1257.0,464.3 1272.7,463.5 1291.0,462.8 C1309.3,462.1 1329.2,461.8 1350.0,461.4 C1370.8,461.0 1405.0,460.6 1416.0,460.5" fill="none" stroke="#ff0000" stroke-width="3.3" stroke-dasharray="12.6 5.6"/>
<line x1="1000.6" y1="426.7" x2="778.0" y2="780.8" stroke="#ff0000" stroke-width="3.2" stroke-dasharray="3.2 5.6"/>
<line x1="921.8" y1="426.7" x2="811.7" y2="800.0" stroke="#262626" stroke-width="3.4" stroke-dasharray="3.4 5.8"/>
<circle cx="823.1" cy="779.5" r="8.0" fill="#ffa500"/>
<circle cx="833.2" cy="735.7" r="8.0" fill="#ffa500"/>
<circle cx="832.6" cy="743.1" r="8.0" fill="#ffa500"/>
<circle cx="916.7" cy="584.8" r="8.0" fill="#ffa500"/>
<circle cx="1019.8" cy="514.2" r="8.0" fill="#ffa500"/>
<circle cx="1122.0" cy="499.8" r="8.0" fill="#ffa500"/>
<circle cx="1161.0" cy="498.0" r="8.0" fill="#ffa500"/>
<circle cx="1164.0" cy="498.0" r="8.0" fill="#ffa500"/>
<line x1="822.7" y1="704.5" x2="822.7" y2="707.5" stroke="#ff0000" stroke-width="2.6"/>
<circle cx="822.7" cy="706.0" r="7.4" fill="none" stroke="#ff0000" stroke-width="2.6"/>
<line x1="817.5" y1="716.0" x2="817.5" y2="719.0" stroke="#ff0000" stroke-width="2.6"/>
<circle cx="817.5" cy="717.5" r="7.4" fill="none" stroke="#ff0000" stroke-width="2.6"/>
<line x1="814.5" y1="718.5" x2="814.5" y2="721.5" stroke="#ff0000" stroke-width="2.6"/>
<circle cx="814.5" cy="720.0" r="7.4" fill="none" stroke="#ff0000" stroke-width="2.6"/>
<line x1="811.5" y1="723.0" x2="811.5" y2="726.0" stroke="#ff0000" stroke-width="2.6"/>
<circle cx="811.5" cy="724.5" r="7.4" fill="none" stroke="#ff0000" stroke-width="2.6"/>
<line x1="809.0" y1="727.5" x2="809.0" y2="730.5" stroke="#ff0000" stroke-width="2.6"/>
<circle cx="809.0" cy="729.0" r="7.4" fill="none" stroke="#ff0000" stroke-width="2.6"/>
<line x1="806.5" y1="732.0" x2="806.5" y2="735.0" stroke="#ff0000" stroke-width="2.6"/>
<circle cx="806.5" cy="733.5" r="7.4" fill="none" stroke="#ff0000" stroke-width="2.6"/>
<line x1="804.0" y1="737.5" x2="804.0" y2="740.5" stroke="#ff0000" stroke-width="2.6"/>
<circle cx="804.0" cy="739.0" r="7.4" fill="none" stroke="#ff0000" stroke-width="2.6"/>
<line x1="802.5" y1="742.0" x2="802.5" y2="745.0" stroke="#ff0000" stroke-width="2.6"/>
<circle cx="802.5" cy="743.5" r="7.4" fill="none" stroke="#ff0000" stroke-width="2.6"/>
<line x1="801.7" y1="746.0" x2="801.7" y2="749.0" stroke="#ff0000" stroke-width="2.6"/>
<circle cx="801.7" cy="747.5" r="7.4" fill="none" stroke="#ff0000" stroke-width="2.6"/>
<line x1="955.3" y1="562.1" x2="955.3" y2="565.1" stroke="#ff0000" stroke-width="2.6"/>
<circle cx="955.3" cy="563.6" r="7.4" fill="none" stroke="#ff0000" stroke-width="2.6"/>
<line x1="986.0" y1="529.0" x2="986.0" y2="532.0" stroke="#ff0000" stroke-width="2.6"/>
<circle cx="986.0" cy="530.5" r="7.4" fill="none" stroke="#ff0000" stroke-width="2.6"/>
<line x1="987.5" y1="527.9" x2="987.5" y2="530.9" stroke="#ff0000" stroke-width="2.6"/>
<circle cx="987.5" cy="529.4" r="7.4" fill="none" stroke="#ff0000" stroke-width="2.6"/>
<line x1="990.0" y1="525.5" x2="990.0" y2="528.5" stroke="#ff0000" stroke-width="2.6"/>
<circle cx="990.0" cy="527.0" r="7.4" fill="none" stroke="#ff0000" stroke-width="2.6"/>
<line x1="992.5" y1="522.8" x2="992.5" y2="525.8" stroke="#ff0000" stroke-width="2.6"/>
<circle cx="992.5" cy="524.3" r="7.4" fill="none" stroke="#ff0000" stroke-width="2.6"/>
<line x1="994.0" y1="521.5" x2="994.0" y2="524.5" stroke="#ff0000" stroke-width="2.6"/>
<circle cx="994.0" cy="523.0" r="7.4" fill="none" stroke="#ff0000" stroke-width="2.6"/>
<line x1="996.0" y1="520.5" x2="996.0" y2="523.5" stroke="#ff0000" stroke-width="2.6"/>
<circle cx="996.0" cy="522.0" r="7.4" fill="none" stroke="#ff0000" stroke-width="2.6"/>
<line x1="998.0" y1="519.0" x2="998.0" y2="522.0" stroke="#ff0000" stroke-width="2.6"/>
<circle cx="998.0" cy="520.5" r="7.4" fill="none" stroke="#ff0000" stroke-width="2.6"/>
<line x1="1000.6" y1="517.8" x2="1000.6" y2="520.8" stroke="#ff0000" stroke-width="2.6"/>
<circle cx="1000.6" cy="519.3" r="7.4" fill="none" stroke="#ff0000" stroke-width="2.6"/>
<line x1="1015.2" y1="511.4" x2="1015.2" y2="514.4" stroke="#ff0000" stroke-width="2.6"/>
<circle cx="1015.2" cy="512.9" r="7.4" fill="none" stroke="#ff0000" stroke-width="2.6"/>
<line x1="1085.9" y1="480.1" x2="1085.9" y2="490.1" stroke="#ff0000" stroke-width="2.6"/>
<circle cx="1085.1" cy="485.1" r="7.0" fill="none" stroke="#ff0000" stroke-width="2.4"/>
<circle cx="1086.7" cy="485.1" r="7.0" fill="none" stroke="#ff0000" stroke-width="2.4"/>
<line x1="1088.7" y1="479.6" x2="1088.7" y2="489.6" stroke="#ff0000" stroke-width="2.6"/>
<circle cx="1087.9" cy="484.6" r="7.0" fill="none" stroke="#ff0000" stroke-width="2.4"/>
<circle cx="1089.5" cy="484.6" r="7.0" fill="none" stroke="#ff0000" stroke-width="2.4"/>
<line x1="1097.7" y1="476.2" x2="1097.7" y2="486.2" stroke="#ff0000" stroke-width="2.6"/>
<circle cx="1096.9" cy="481.2" r="7.0" fill="none" stroke="#ff0000" stroke-width="2.4"/>
<circle cx="1098.5" cy="481.2" r="7.0" fill="none" stroke="#ff0000" stroke-width="2.4"/>
<line x1="1099.1" y1="476.1" x2="1099.1" y2="486.1" stroke="#ff0000" stroke-width="2.6"/>
<circle cx="1098.3" cy="481.1" r="7.0" fill="none" stroke="#ff0000" stroke-width="2.4"/>
<circle cx="1099.9" cy="481.1" r="7.0" fill="none" stroke="#ff0000" stroke-width="2.4"/>
<line x1="1188.9" y1="463.7" x2="1188.9" y2="473.7" stroke="#ff0000" stroke-width="2.6"/>
<circle cx="1188.1" cy="468.7" r="7.0" fill="none" stroke="#ff0000" stroke-width="2.4"/>
<circle cx="1189.7" cy="468.7" r="7.0" fill="none" stroke="#ff0000" stroke-width="2.4"/>
<line x1="1191.6" y1="462.9" x2="1191.6" y2="472.9" stroke="#ff0000" stroke-width="2.6"/>
<circle cx="1190.8" cy="467.9" r="7.0" fill="none" stroke="#ff0000" stroke-width="2.4"/>
<circle cx="1192.4" cy="467.9" r="7.0" fill="none" stroke="#ff0000" stroke-width="2.4"/>
<line x1="1200.9" y1="461.6" x2="1200.9" y2="471.6" stroke="#ff0000" stroke-width="2.6"/>
<circle cx="1200.1" cy="466.6" r="7.0" fill="none" stroke="#ff0000" stroke-width="2.4"/>
<circle cx="1201.7" cy="466.6" r="7.0" fill="none" stroke="#ff0000" stroke-width="2.4"/>
<line x1="1291.0" y1="457.8" x2="1291.0" y2="467.8" stroke="#ff0000" stroke-width="2.6"/>
<circle cx="1290.2" cy="462.8" r="7.0" fill="none" stroke="#ff0000" stroke-width="2.4"/>
<circle cx="1291.8" cy="462.8" r="7.0" fill="none" stroke="#ff0000" stroke-width="2.4"/>
<line x1="1393.6" y1="455.5" x2="1393.6" y2="465.5" stroke="#ff0000" stroke-width="2.6"/>
<circle cx="1392.8" cy="460.5" r="7.0" fill="none" stroke="#ff0000" stroke-width="2.4"/>
<circle cx="1394.4" cy="460.5" r="7.0" fill="none" stroke="#ff0000" stroke-width="2.4"/>
<line x1="801.7" y1="738.0" x2="801.7" y2="761.0" stroke="#ff0000" stroke-width="3.0"/>
</g>
<line x1="775.4" y1="799.8" x2="1418.4" y2="799.8" stroke="#000080" stroke-width="4.8" stroke-dasharray="8.6 3.67"/>
<line x1="775.4" y1="426.7" x2="1418.4" y2="426.7" stroke="#000080" stroke-width="4.8" stroke-dasharray="8.6 3.67"/>
<line x1="1416.0" y1="425.6" x2="1416.0" y2="802.2" stroke="#000080" stroke-width="4.8" stroke-dasharray="8.6 3.67"/>
<line x1="778.0" y1="424.7" x2="778.0" y2="802.2" stroke="#000080" stroke-width="4.8" stroke-dasharray="8.6 3.67"/>
<text x="1003.4" y="633.4" font-size="37.0" fill="#ff0000" text-anchor="start" >SN 2023ixf r</text>
<text x="1003.4" y="675.2" font-size="37.0" fill="#000" text-anchor="start" >SN 2024ggi r+</text>
<text x="1279.8" y="675.2" font-size="37.0" fill="#ffa500" text-anchor="start" >o</text>
<text x="445.4" y="882.0" font-size="37.0" fill="#000" text-anchor="middle" >Rest-frame days since explosion</text>
<text x="0" y="0" font-size="37" text-anchor="middle" transform="translate(28.6,232.8) rotate(-90)">Abs. Mag (AB)</text>
<text x="0" y="0" font-size="37" text-anchor="middle" transform="translate(49.3,613.5) rotate(-90)">Color (mag)</text>
<rect x="1509.3" y="107.3" width="304.4" height="248.9" rx="4.6" ry="4.6" fill="#fff" stroke="#d3d3d3" stroke-width="2.0"/>
<line x1="1554.2" y1="118.4" x2="1554.2" y2="150.4" stroke="#000000" stroke-width="3.5"/>
<circle cx="1554.2" cy="134.4" r="9.3" fill="none" stroke="#000000" stroke-width="2.3"/>
<line x1="1554.2" y1="165.7" x2="1554.2" y2="197.7" stroke="#ff0000" stroke-width="3.5"/>
<circle cx="1554.2" cy="181.7" r="9.3" fill="none" stroke="#ff0000" stroke-width="2.3"/>
<line x1="1554.2" y1="213.3" x2="1554.2" y2="245.3" stroke="#228b22" stroke-width="3.3"/>
<polygon points="1554.20,221.90 1547.79,225.60 1547.79,233.00 1554.20,236.70 1560.61,233.00 1560.61,225.60" fill="none" stroke="#228b22" stroke-width="2.3" stroke-linejoin="miter"/>
<line x1="1554.2" y1="261.1" x2="1554.2" y2="293.1" stroke="#1010ff" stroke-width="3.3"/>
<polygon points="1550.60,269.90 1554.20,273.50 1557.80,269.90 1561.40,273.50 1557.80,277.10 1561.40,280.70 1557.80,284.30 1554.20,280.70 1550.60,284.30 1547.00,280.70 1550.60,277.10 1547.00,273.50" fill="none" stroke="#1010ff" stroke-width="2.2" stroke-linejoin="miter"/>
<line x1="1554.2" y1="308.7" x2="1554.2" y2="340.7" stroke="#870f8f" stroke-width="3.3"/>
<polygon points="1554.20,314.20 1559.80,324.70 1554.20,335.20 1548.60,324.70" fill="none" stroke="#870f8f" stroke-width="2.0" stroke-linejoin="miter"/>
<text x="1611.7" y="145.4" font-size="32.5" fill="#000" text-anchor="start" >SN 2024ggi</text>
<text x="1611.7" y="192.7" font-size="32.5" fill="#000" text-anchor="start" >SN 2023ixf</text>
<text x="1611.7" y="240.3" font-size="32.5" fill="#000" text-anchor="start" >SN 1999em</text>
<text x="1611.7" y="288.1" font-size="32.5" fill="#000" text-anchor="start" >SN 2005cs</text>
<text x="1611.7" y="335.7" font-size="32.5" fill="#000" text-anchor="start" >SN 2013ej</text>
</svg>
</body></html>
